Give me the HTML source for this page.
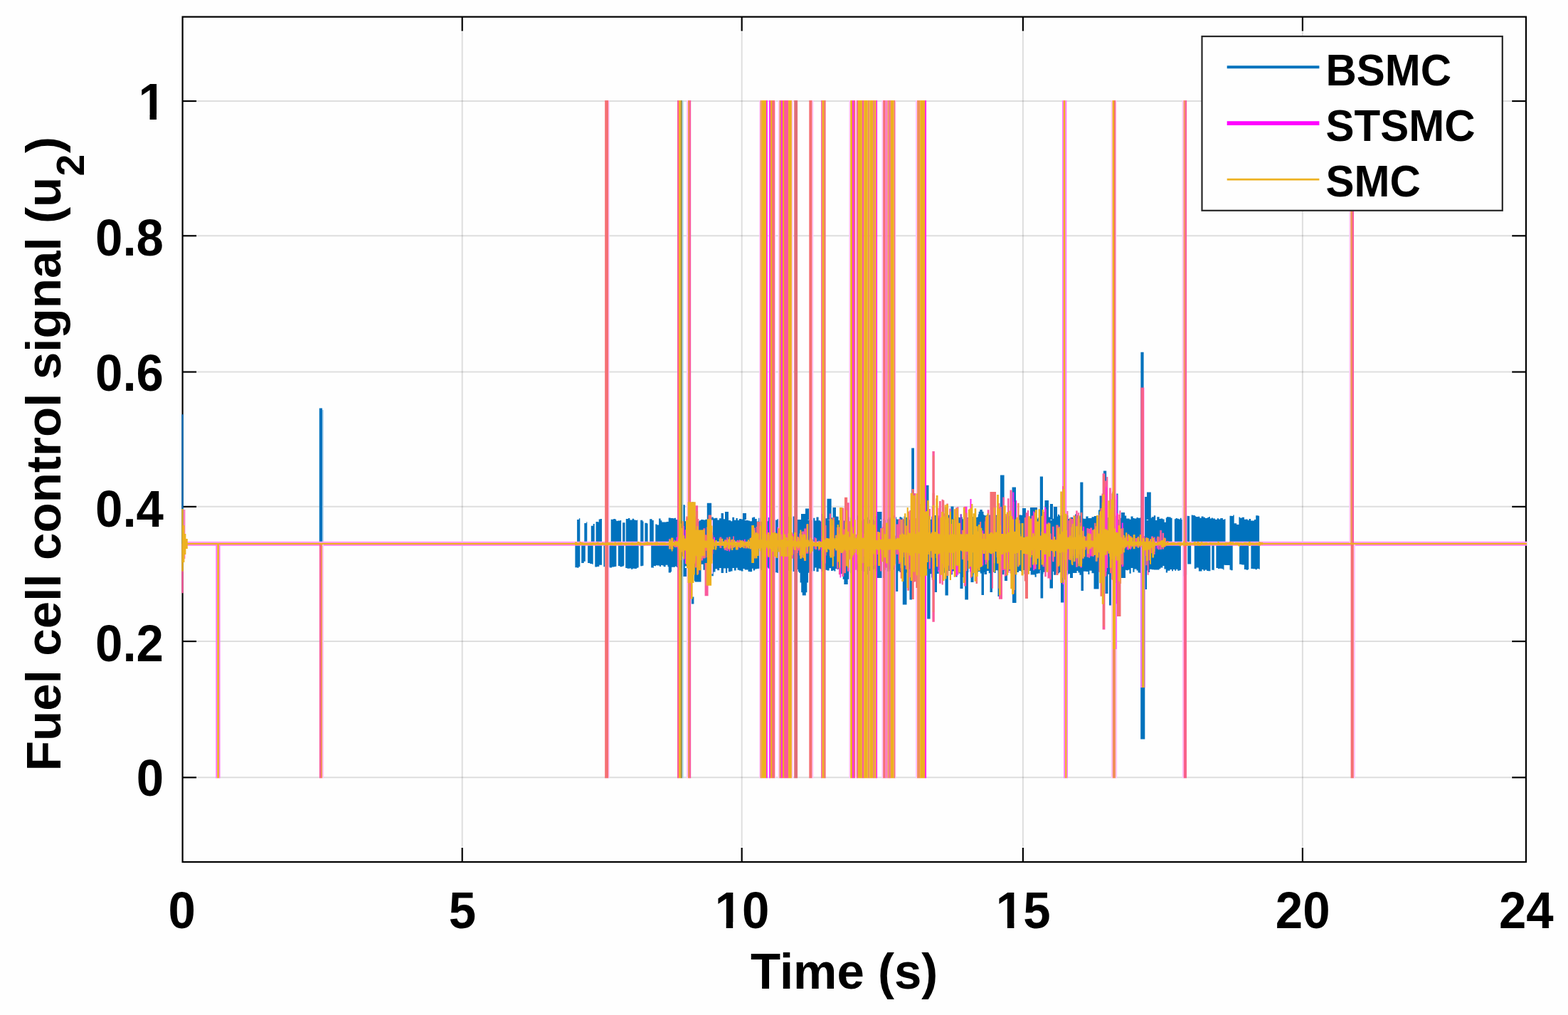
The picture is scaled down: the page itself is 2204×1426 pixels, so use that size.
<!DOCTYPE html>
<html lang="en"><head><meta charset="utf-8"><title>Fuel cell control signal (u2)</title>
<style>html,body{margin:0;padding:0;background:#FEFEFE;overflow:hidden}svg{display:block;filter:blur(0.45px)}</style></head>
<body>
<svg width="2204" height="1426" viewBox="0 0 2204 1426">
<rect width="2204" height="1426" fill="#FEFEFE"/>
<g stroke="#000" stroke-opacity="0.124" stroke-width="2.0" fill="none">
<line x1="649.70" y1="44.849999999999994" x2="649.70" y2="1189.8"/>
<line x1="1042.70" y1="44.849999999999994" x2="1042.70" y2="1189.8"/>
<line x1="1437.90" y1="44.849999999999994" x2="1437.90" y2="1189.8"/>
<line x1="1830.90" y1="44.849999999999994" x2="1830.90" y2="1189.8"/>
<line x1="277.20000000000005" y1="1092.30" x2="2124.0" y2="1092.30"/>
<line x1="277.20000000000005" y1="901.05" x2="2124.0" y2="901.05"/>
<line x1="277.20000000000005" y1="711.85" x2="2124.0" y2="711.85"/>
<line x1="277.20000000000005" y1="522.55" x2="2124.0" y2="522.55"/>
<line x1="277.20000000000005" y1="331.30" x2="2124.0" y2="331.30"/>
<line x1="277.20000000000005" y1="142.05" x2="2124.0" y2="142.05"/>
</g>
<g stroke="#000" stroke-width="2.2" fill="none" stroke-linecap="butt">
<rect x="256.6" y="23.65" width="1888.4" height="1187.35"/>
<line x1="649.70" y1="1211.0" x2="649.70" y2="1191.0"/>
<line x1="649.70" y1="23.65" x2="649.70" y2="43.65"/>
<line x1="1042.70" y1="1211.0" x2="1042.70" y2="1191.0"/>
<line x1="1042.70" y1="23.65" x2="1042.70" y2="43.65"/>
<line x1="1437.90" y1="1211.0" x2="1437.90" y2="1191.0"/>
<line x1="1437.90" y1="23.65" x2="1437.90" y2="43.65"/>
<line x1="1830.90" y1="1211.0" x2="1830.90" y2="1191.0"/>
<line x1="1830.90" y1="23.65" x2="1830.90" y2="43.65"/>
<line x1="256.6" y1="1092.30" x2="276.20000000000005" y2="1092.30"/>
<line x1="2145.0" y1="1092.30" x2="2125.2" y2="1092.30"/>
<line x1="256.6" y1="901.05" x2="276.20000000000005" y2="901.05"/>
<line x1="2145.0" y1="901.05" x2="2125.2" y2="901.05"/>
<line x1="256.6" y1="711.85" x2="276.20000000000005" y2="711.85"/>
<line x1="2145.0" y1="711.85" x2="2125.2" y2="711.85"/>
<line x1="256.6" y1="522.55" x2="276.20000000000005" y2="522.55"/>
<line x1="2145.0" y1="522.55" x2="2125.2" y2="522.55"/>
<line x1="256.6" y1="331.30" x2="276.20000000000005" y2="331.30"/>
<line x1="2145.0" y1="331.30" x2="2125.2" y2="331.30"/>
<line x1="256.6" y1="142.05" x2="276.20000000000005" y2="142.05"/>
<line x1="2145.0" y1="142.05" x2="2125.2" y2="142.05"/>
</g>
<clipPath id="ax"><rect x="255.20000000000002" y="23.65" width="1891.0" height="1187.35"/></clipPath>
<g clip-path="url(#ax)" stroke="none">
<path fill="#A9CFEA" d="M453.0 576.0H454.8V764.0H453.0Z"/>
<path fill="#0072BD" d="M255.2 582.2H257.7V764.0H255.2ZM448.8 573.4H453.0V764.0H448.8ZM811.1 730.1H814.0V764.0H811.1ZM813.8 728.2H815.3V764.0H813.8ZM821.3 735.1H824.4V764.0H821.3ZM824.3 733.2H825.3V764.0H824.3ZM830.8 738.7H833.9V764.0H830.8ZM833.7 736.1H835.7V764.0H833.7ZM835.5 736.9H835.7V764.0H835.5ZM837.6 733.1H840.5V764.0H837.6ZM840.4 733.5H841.9V764.0H840.4ZM841.7 729.4H843.9V764.0H841.7ZM843.7 729.1H846.0V764.0H843.7ZM858.7 729.7H862.4V764.0H858.7ZM862.2 728.9H865.3V764.0H862.2ZM865.2 730.3H866.4V764.0H865.2ZM866.2 732.0H868.4V764.0H866.2ZM868.2 731.5H871.8V764.0H868.2ZM871.7 731.0H873.2V764.0H871.7ZM875.1 734.2H878.4V764.0H875.1ZM878.3 734.6H878.6V764.0H878.3ZM879.8 729.1H883.1V764.0H879.8ZM883.0 728.1H885.4V764.0H883.0ZM885.3 730.6H888.9V764.0H885.3ZM888.7 728.8H891.2V764.0H888.7ZM891.1 730.6H893.6V764.0H891.1ZM893.4 731.1H895.8V764.0H893.4ZM895.6 730.3H896.3V764.0H895.6ZM900.2 730.7H903.3V764.0H900.2ZM903.1 732.5H904.5V764.0H903.1ZM906.4 734.7H909.5V764.0H906.4ZM909.3 735.5H910.6V764.0H909.3ZM913.2 729.2H916.7V764.0H913.2ZM916.5 731.0H918.8V764.0H916.5ZM921.3 736.4H923.5V764.0H921.3ZM923.4 737.5H926.3V764.0H923.4ZM926.1 728.6H928.6V764.0H926.1ZM928.5 731.2H930.3V764.0H928.5ZM930.2 733.4H933.6V764.0H930.2ZM933.5 733.5H936.9V764.0H933.5ZM936.8 733.1H939.0V764.0H936.8ZM938.8 733.1H939.9V764.0H938.8ZM939.7 727.4H942.6V764.0H939.7ZM942.5 728.1H945.9V764.0H942.5ZM945.7 728.2H948.3V764.0H945.7ZM948.1 727.8H950.0V764.0H948.1ZM949.8 730.1H952.1V764.0H949.8ZM808.4 764.0H811.4V797.3H808.4ZM811.3 764.0H813.5V797.7H811.3ZM813.4 764.0H815.3V796.2H813.4ZM817.2 764.0H820.8V790.9H817.2ZM820.7 764.0H822.8V788.8H820.7ZM826.1 764.0H829.3V791.1H826.1ZM829.2 764.0H832.5V792.0H829.2ZM832.3 764.0H833.7V792.8H832.3ZM836.3 764.0H839.3V796.5H836.3ZM839.2 764.0H842.3V796.0H839.2ZM842.1 764.0H844.5V793.8H842.1ZM844.3 764.0H846.0V793.8H844.3ZM848.5 764.0H850.0V796.3H848.5ZM854.0 764.0H856.8V796.6H854.0ZM856.7 764.0H860.2V797.6H856.7ZM860.0 764.0H863.7V796.6H860.0ZM863.5 764.0H866.2V796.0H863.5ZM866.0 764.0H866.4V795.5H866.0ZM868.9 764.0H871.5V794.9H868.9ZM871.3 764.0H874.7V796.3H871.3ZM874.5 764.0H876.8V795.6H874.5ZM876.7 764.0H877.3V794.3H876.7ZM879.2 764.0H881.6V797.9H879.2ZM881.5 764.0H884.7V798.7H881.5ZM884.5 764.0H887.5V798.5H884.5ZM887.4 764.0H889.1V799.9H887.4ZM889.0 764.0H892.3V798.8H889.0ZM892.2 764.0H895.0V799.0H892.2ZM894.8 764.0H897.2V797.8H894.8ZM897.1 764.0H897.7V797.1H897.1ZM900.2 764.0H903.0V795.3H900.2ZM902.8 764.0H904.5V794.8H902.8ZM915.2 764.0H918.5V797.4H915.2ZM918.3 764.0H918.8V798.1H918.3ZM918.6 764.0H920.4V795.0H918.6ZM920.2 764.0H922.0V795.3H920.2ZM921.9 764.0H924.1V794.2H921.9ZM924.0 764.0H927.1V794.5H924.0ZM927.0 764.0H929.2V796.0H927.0ZM929.1 764.0H931.2V794.1H929.1ZM931.1 764.0H932.9V794.6H931.1ZM932.7 764.0H935.6V796.2H932.7ZM935.5 764.0H938.7V793.7H935.5ZM938.5 764.0H939.9V796.2H938.5ZM939.7 764.0H943.0V804.4H939.7ZM942.9 764.0H944.0V803.2H942.9ZM943.8 764.0H947.0V796.8H943.8ZM946.9 764.0H948.9V796.7H946.9ZM948.7 764.0H951.5V795.8H948.7ZM951.4 764.0H952.1V795.2H951.4ZM951.0 732.5H953.8V797.1H951.0ZM953.6 732.1H956.7V801.0H953.6ZM956.5 731.4H959.5V797.8H956.5ZM959.3 726.6H962.3V796.5H959.3ZM962.1 732.3H965.2V795.5H962.1ZM965.0 727.8H967.4V792.7H965.0ZM967.2 730.8H969.4V798.5H967.2ZM969.2 726.3H971.7V799.2H969.2ZM971.5 731.3H974.8V799.6H971.5ZM974.6 729.5H977.5V798.0H974.6ZM977.3 729.1H979.9V798.7H977.3ZM979.7 732.4H983.1V798.2H979.7ZM982.9 731.3H985.3V799.7H982.9ZM985.1 730.1H988.7V792.7H985.1ZM988.5 730.6H991.6V800.8H988.5ZM991.4 729.8H994.0V802.5H991.4ZM993.8 729.2H996.2V803.3H993.8ZM996.0 731.2H998.5V802.1H996.0ZM998.3 728.6H1000.5V798.7H998.3ZM1000.3 726.4H1002.8V809.2H1000.3ZM1002.6 728.3H1005.5V803.4H1002.6ZM1005.3 727.8H1008.4V799.3H1005.3ZM1008.2 730.5H1011.2V801.3H1008.2ZM1011.0 728.3H1013.8V798.0H1011.0ZM1013.6 720.9H1017.0V804.9H1013.6ZM1016.8 729.3H1020.2V798.6H1016.8ZM1020.0 727.9H1022.2V804.9H1020.0ZM1022.0 727.4H1024.1V798.3H1022.0ZM1023.9 730.9H1027.1V803.3H1023.9ZM1026.9 732.3H1029.5V802.5H1026.9ZM1029.3 726.8H1032.1V797.9H1029.3ZM1031.9 730.8H1034.7V801.6H1031.9ZM1034.5 728.0H1036.8V797.7H1034.5ZM1036.6 731.0H1039.2V800.7H1036.6ZM1039.0 729.1H1042.0V801.5H1039.0ZM1041.8 729.5H1044.5V802.6H1041.8ZM1044.3 728.9H1046.8V799.1H1044.3ZM1046.6 731.1H1049.1V800.6H1046.6ZM1048.9 730.9H1051.8V800.4H1048.9ZM1051.6 731.4H1054.0V803.0H1051.6ZM1053.8 732.2H1057.1V803.3H1053.8ZM1056.9 727.3H1058.9V798.8H1056.9ZM1058.7 726.5H1061.2V801.5H1058.7ZM1061.0 728.9H1063.7V799.5H1061.0ZM1063.5 732.6H1066.4V799.0H1063.5ZM1066.2 727.7H1069.0V798.7H1066.2ZM1068.8 732.8H1072.1V800.9H1068.8ZM1071.9 725.8H1074.9V802.6H1071.9ZM1074.7 729.6H1078.1V795.4H1074.7ZM1077.9 732.3H1080.0V797.6H1077.9ZM1079.8 726.9H1082.5V798.8H1079.8ZM1082.3 726.9H1085.3V798.9H1082.3ZM1085.1 728.1H1087.8V798.4H1085.1ZM1087.6 729.4H1089.6V804.2H1087.6ZM1089.4 730.5H1092.6V804.3H1089.4ZM1092.4 729.3H1095.4V804.9H1092.4ZM1095.2 732.0H1098.2V801.2H1095.2ZM1098.0 730.3H1100.5V802.1H1098.0ZM1100.3 727.6H1103.5V802.8H1100.3ZM1103.3 725.4H1105.7V803.9H1103.3ZM1105.5 727.2H1108.1V798.7H1105.5ZM1107.9 726.1H1110.8V801.7H1107.9ZM1110.6 727.6H1113.7V801.3H1110.6ZM1113.5 725.4H1116.9V803.1H1113.5ZM1116.7 725.2H1120.1V802.4H1116.7ZM1119.9 730.1H1122.0V800.1H1119.9ZM1121.8 730.0H1125.4V803.3H1121.8ZM1125.2 730.0H1127.2V800.9H1125.2ZM1127.0 728.6H1130.6V801.5H1127.0ZM1130.4 728.9H1133.3V801.5H1130.4ZM1133.1 726.2H1135.6V802.2H1133.1ZM1135.4 730.5H1138.3V802.5H1135.4ZM1138.1 730.6H1141.1V801.8H1138.1ZM1140.9 730.7H1143.0V802.7H1140.9ZM1142.8 727.7H1145.4V802.2H1142.8ZM1145.2 731.6H1147.7V797.6H1145.2ZM1147.5 726.4H1150.6V803.3H1147.5ZM1150.4 731.3H1153.1V798.8H1150.4ZM1152.9 732.6H1155.0V799.4H1152.9ZM1154.8 722.0H1156.9V802.7H1154.8ZM1156.7 725.4H1159.5V800.2H1156.7ZM1159.3 728.3H1162.7V800.8H1159.3ZM1162.5 730.3H1165.6V801.4H1162.5ZM1165.4 731.2H1168.3V798.3H1165.4ZM1168.1 727.5H1170.7V802.1H1168.1ZM1170.5 730.1H1172.6V801.3H1170.5ZM1172.4 726.8H1174.4V802.6H1172.4ZM1174.2 725.6H1176.3V799.1H1174.2ZM1176.1 725.7H1178.6V799.9H1176.1ZM1178.4 731.0H1181.4V799.1H1178.4ZM1181.2 727.8H1184.3V806.2H1181.2ZM1184.1 731.6H1187.2V798.0H1184.1ZM1187.0 728.8H1189.0V797.6H1187.0ZM1188.8 728.1H1192.3V801.1H1188.8ZM1192.1 726.4H1195.4V799.3H1192.1ZM1195.2 727.8H1197.2V805.3H1195.2ZM1197.0 726.1H1200.6V799.1H1197.0ZM1200.4 730.1H1202.6V798.7H1200.4ZM1202.4 725.0H1205.4V799.1H1202.4ZM1205.2 723.9H1208.8V802.7H1205.2ZM1208.6 729.0H1210.8V802.4H1208.6ZM1210.6 731.4H1213.4V802.1H1210.6ZM1213.2 729.5H1216.5V803.1H1213.2ZM1216.3 731.5H1218.8V799.6H1216.3ZM1218.6 726.8H1221.3V807.3H1218.6ZM1221.1 730.3H1223.4V801.9H1221.1ZM1223.2 726.4H1225.5V797.9H1223.2ZM1225.3 730.2H1228.3V799.7H1225.3ZM1228.1 731.6H1231.2V799.4H1228.1ZM1231.0 725.1H1234.3V802.6H1231.0ZM1234.1 725.6H1237.0V804.5H1234.1ZM1236.8 731.4H1238.9V800.1H1236.8ZM1238.7 728.2H1241.0V803.2H1238.7ZM1240.8 728.7H1244.1V798.3H1240.8ZM1243.9 730.8H1247.2V800.7H1243.9ZM1247.0 729.5H1249.7V802.8H1247.0ZM1249.5 727.0H1251.6V799.7H1249.5ZM1251.4 728.9H1254.3V802.1H1251.4ZM1254.1 730.4H1257.3V800.6H1254.1ZM1257.1 726.5H1260.3V807.4H1257.1ZM1260.1 729.5H1262.4V804.4H1260.1ZM1262.2 730.3H1264.6V802.2H1262.2ZM1264.4 726.3H1266.9V804.1H1264.4ZM1266.7 727.3H1268.7V798.4H1266.7ZM1268.5 729.8H1270.7V803.2H1268.5ZM1270.5 725.6H1273.3V803.4H1270.5ZM1273.1 727.0H1276.2V804.6H1273.1ZM1276.0 730.3H1279.0V799.8H1276.0ZM1278.8 725.2H1281.6V800.6H1278.8ZM1281.4 728.3H1284.6V806.5H1281.4ZM1284.4 725.2H1286.4V805.5H1284.4ZM1286.2 730.8H1289.8V802.5H1286.2ZM1289.6 730.0H1291.9V802.0H1289.6ZM1291.7 729.2H1294.5V804.8H1291.7ZM1294.3 729.9H1297.4V803.9H1294.3ZM1297.2 726.6H1300.1V800.3H1297.2ZM1299.9 727.6H1302.2V799.3H1299.9ZM1302.0 730.7H1305.0V799.6H1302.0ZM1304.8 724.4H1307.3V802.0H1304.8ZM1307.1 729.8H1309.4V806.2H1307.1ZM1309.2 725.8H1311.3V811.4H1309.2ZM1311.1 725.4H1313.6V801.1H1311.1ZM1313.4 724.0H1316.9V800.4H1313.4ZM1316.7 727.9H1319.6V805.9H1316.7ZM1319.4 724.2H1321.8V801.0H1319.4ZM1321.6 730.0H1324.5V804.5H1321.6ZM1324.3 726.7H1327.8V804.8H1324.3ZM1327.6 726.2H1329.8V805.3H1327.6ZM1329.6 728.5H1332.9V801.4H1329.6ZM1332.7 723.4H1336.1V802.1H1332.7ZM1335.9 726.1H1339.1V807.2H1335.9ZM1338.9 729.1H1341.6V802.5H1338.9ZM1341.4 729.3H1343.6V803.6H1341.4ZM1343.4 726.2H1345.5V810.5H1343.4ZM1345.3 726.3H1347.6V802.5H1345.3ZM1347.4 726.9H1350.8V805.4H1347.4ZM1350.6 726.5H1352.8V804.9H1350.6ZM1352.6 729.3H1356.1V811.1H1352.6ZM1355.9 723.0H1358.8V800.9H1355.9ZM1358.6 726.9H1361.4V804.0H1358.6ZM1361.2 724.8H1363.5V798.7H1361.2ZM1363.3 727.4H1366.3V802.8H1363.3ZM1366.1 726.0H1368.8V807.2H1366.1ZM1368.6 727.5H1371.9V802.6H1368.6ZM1371.7 726.8H1375.0V804.3H1371.7ZM1374.8 722.6H1378.0V802.9H1374.8ZM1377.8 727.0H1380.5V805.6H1377.8ZM1380.3 723.2H1383.7V804.3H1380.3ZM1383.5 724.3H1387.1V807.1H1383.5ZM1386.9 723.0H1390.0V802.0H1386.9ZM1389.8 723.5H1392.4V805.2H1389.8ZM1392.2 728.2H1394.7V802.1H1392.2ZM1394.5 724.8H1397.7V803.8H1394.5ZM1397.5 723.6H1399.7V804.9H1397.5ZM1399.5 723.8H1402.6V801.2H1399.5ZM1402.4 726.3H1404.4V802.4H1402.4ZM1404.2 724.0H1406.8V801.7H1404.2ZM1406.6 727.8H1408.8V806.6H1406.6ZM1408.6 728.7H1411.5V807.2H1408.6ZM1411.3 724.0H1414.7V801.5H1411.3ZM1414.5 726.3H1417.6V802.1H1414.5ZM1417.4 725.0H1420.3V802.1H1417.4ZM1420.1 726.9H1423.2V804.4H1420.1ZM1423.0 722.9H1425.6V806.7H1423.0ZM1425.4 726.5H1428.6V807.9H1425.4ZM1428.4 727.3H1432.0V803.9H1428.4ZM1431.8 723.5H1435.2V802.0H1431.8ZM1435.0 723.7H1437.1V803.1H1435.0ZM1436.9 724.9H1439.7V801.1H1436.9ZM1439.5 727.7H1442.9V806.5H1439.5ZM1442.7 724.7H1446.1V802.4H1442.7ZM1445.9 728.8H1448.9V802.1H1445.9ZM1448.7 726.5H1452.0V807.5H1448.7ZM1451.8 728.1H1454.8V807.5H1451.8ZM1454.6 724.1H1456.7V810.8H1454.6ZM1456.5 728.9H1458.8V805.9H1456.5ZM1458.6 727.3H1461.8V805.4H1458.6ZM1461.6 723.2H1463.7V801.1H1461.6ZM1463.5 726.2H1466.6V806.5H1463.5ZM1466.4 724.9H1469.8V803.8H1466.4ZM1469.6 723.8H1471.7V801.2H1469.6ZM1471.5 728.0H1474.2V801.0H1471.5ZM1474.0 726.6H1476.5V807.5H1474.0ZM1476.3 730.9H1478.7V804.1H1476.3ZM1478.5 728.8H1481.3V803.1H1478.5ZM1481.1 727.2H1484.3V807.7H1481.1ZM1484.1 725.5H1487.1V805.5H1484.1ZM1486.9 722.7H1489.1V805.5H1486.9ZM1488.9 724.5H1490.9V803.9H1488.9ZM1490.7 724.0H1493.4V805.5H1490.7ZM1493.2 723.5H1496.6V804.9H1493.2ZM1496.4 724.2H1498.8V802.6H1496.4ZM1498.6 724.0H1501.4V807.9H1498.6ZM1501.2 729.0H1504.7V806.3H1501.2ZM1504.5 726.8H1508.1V804.5H1504.5ZM1507.9 728.6H1511.2V805.0H1507.9ZM1511.0 722.6H1513.6V805.1H1511.0ZM1513.4 724.0H1515.6V801.9H1513.4ZM1515.4 726.0H1517.6V804.6H1515.4ZM1517.4 724.4H1520.8V807.8H1517.4ZM1520.6 728.4H1523.2V802.2H1520.6ZM1523.0 728.8H1526.6V802.7H1523.0ZM1526.4 725.6H1529.6V802.9H1526.4ZM1529.4 728.1H1531.4V807.1H1529.4ZM1531.2 728.1H1534.7V801.7H1531.2ZM1534.5 726.3H1538.0V805.2H1534.5ZM1537.8 724.9H1541.2V801.0H1537.8ZM1541.0 729.4H1543.3V804.3H1541.0ZM1543.1 728.0H1545.8V803.3H1543.1ZM1545.6 730.4H1548.3V801.4H1545.6ZM1548.1 724.8H1550.6V803.3H1548.1ZM1550.4 730.3H1553.7V801.3H1550.4ZM1553.5 723.6H1556.9V805.0H1553.5ZM1556.7 726.9H1560.2V806.7H1556.7ZM1560.0 726.6H1563.3V806.2H1560.0ZM1563.1 725.7H1566.1V800.9H1563.1ZM1565.9 728.9H1568.2V804.7H1565.9ZM1568.0 725.5H1571.1V801.4H1568.0ZM1570.9 730.0H1573.6V800.3H1570.9ZM1573.4 727.8H1576.2V798.6H1573.4ZM1576.0 727.4H1578.4V804.3H1576.0ZM1578.2 725.3H1580.3V803.9H1578.2ZM1580.1 724.6H1583.2V800.7H1580.1ZM1583.0 728.4H1585.8V801.3H1583.0ZM1585.6 728.5H1587.7V800.4H1585.6ZM1587.5 729.8H1589.7V805.8H1587.5ZM1589.5 725.5H1592.6V798.0H1589.5ZM1592.4 727.9H1594.5V803.7H1592.4ZM1594.3 728.4H1597.7V799.5H1594.3ZM1597.5 727.0H1599.7V801.5H1597.5ZM1599.5 727.8H1602.5V804.5H1599.5ZM1602.3 727.6H1605.4V804.9H1602.3ZM1605.2 730.5H1608.4V802.1H1605.2ZM1608.2 726.2H1611.7V804.2H1608.2ZM1611.5 730.9H1614.2V801.4H1611.5ZM1614.0 728.8H1616.1V803.9H1614.0ZM1615.9 727.7H1619.0V799.8H1615.9ZM1618.8 726.3H1622.0V800.3H1618.8ZM1621.8 724.3H1624.2V800.4H1621.8ZM1624.0 730.9H1626.5V800.4H1624.0ZM1626.3 726.3H1629.6V800.4H1626.3ZM1629.4 729.1H1631.4V798.9H1629.4ZM1631.2 728.6H1634.4V797.4H1631.2ZM1634.2 729.6H1636.6V795.1H1634.2ZM1636.4 733.8H1639.0V799.4H1636.4ZM1638.8 727.4H1641.1V804.5H1638.8ZM1019.0 719.0H1024.0V730.0H1019.0ZM1044.0 721.0H1049.0V730.0H1044.0ZM1132.0 714.5H1137.0V730.0H1132.0ZM1126.0 722.0H1132.0V730.0H1126.0ZM1162.5 700.8H1168.6V730.0H1162.5ZM1170.5 713.0H1175.0V730.0H1170.5ZM1233.0 719.0H1241.0V730.0H1233.0ZM1281.2 629.5H1285.0V730.0H1281.2ZM1300.0 681.8H1305.5V730.0H1300.0ZM1336.5 711.5H1340.5V730.0H1336.5ZM1374.0 726.3H1375.8V730.0H1374.0ZM1375.7 718.8H1377.5V730.0H1375.7ZM1377.3 716.0H1379.2V730.0H1377.3ZM1379.0 716.0H1380.8V730.0H1379.0ZM1380.7 718.8H1382.5V730.0H1380.7ZM1382.3 726.3H1384.2V730.0H1382.3ZM1406.0 667.5H1411.6V730.0H1406.0ZM1422.6 684.5H1428.0V730.0H1422.6ZM1437.0 714.0H1442.0V730.0H1437.0ZM1448.0 713.0H1458.0V730.0H1448.0ZM1461.8 669.5H1466.0V730.0H1461.8ZM1468.5 703.0H1474.0V730.0H1468.5ZM1476.0 708.0H1480.0V730.0H1476.0ZM1481.0 712.0H1486.0V730.0H1481.0ZM1518.3 677.6H1522.4V730.0H1518.3ZM1544.0 716.6H1545.8V730.0H1544.0ZM1545.6 696.5H1547.4V730.0H1545.6ZM1547.2 696.5H1549.0V730.0H1547.2ZM1548.9 716.6H1550.7V730.0H1548.9ZM1551.0 661.5H1555.2V730.0H1551.0ZM1567.5 693.5H1571.5V730.0H1567.5ZM1576.0 720.0H1581.0V730.0H1576.0ZM1607.5 698.0H1612.0V730.0H1607.5ZM1612.0 691.5H1617.8V730.0H1612.0ZM962.0 798.0H968.0V810.0H962.0ZM974.0 798.0H975.9V804.1H974.0ZM975.8 798.0H977.8V816.2H975.8ZM977.6 798.0H979.5V817.0H977.6ZM979.4 798.0H981.4V816.2H979.4ZM981.2 798.0H983.1V804.1H981.2ZM1123.0 798.0H1124.8V804.8H1123.0ZM1124.6 798.0H1126.4V818.5H1124.6ZM1126.2 798.0H1128.0V832.2H1126.2ZM1127.8 798.0H1129.6V836.5H1127.8ZM1129.4 798.0H1131.2V836.5H1129.4ZM1131.1 798.0H1132.8V836.5H1131.1ZM1132.7 798.0H1134.4V832.2H1132.7ZM1134.3 798.0H1136.0V818.5H1134.3ZM1135.9 798.0H1137.7V804.8H1135.9ZM1183.0 798.0H1184.9V803.3H1183.0ZM1184.7 798.0H1186.6V813.8H1184.7ZM1186.4 798.0H1188.3V821.0H1186.4ZM1188.1 798.0H1190.0V821.0H1188.1ZM1189.9 798.0H1191.7V821.0H1189.9ZM1191.6 798.0H1193.4V813.8H1191.6ZM1193.3 798.0H1195.2V803.3H1193.3ZM1232.0 798.0H1242.0V812.0H1232.0ZM1258.5 798.0H1262.2V831.0H1258.5ZM1268.8 798.0H1273.8V849.5H1268.8ZM1278.5 798.0H1282.0V842.5H1278.5ZM1288.0 798.0H1291.0V810.0H1288.0ZM1303.2 798.0H1307.6V869.5H1303.2ZM1313.5 798.0H1317.0V832.0H1313.5ZM1328.5 798.0H1332.8V836.5H1328.5ZM1349.5 798.0H1353.5V827.0H1349.5ZM1356.3 798.0H1361.0V842.5H1356.3ZM1364.5 798.0H1368.5V818.0H1364.5ZM1391.5 798.0H1395.0V832.0H1391.5ZM1412.0 798.0H1416.0V816.0H1412.0ZM1423.0 798.0H1428.5V847.0H1423.0ZM1462.5 798.0H1466.2V840.5H1462.5ZM1475.5 798.0H1480.0V826.5H1475.5ZM1491.0 798.0H1495.8V846.5H1491.0ZM1504.0 798.0H1508.0V812.0H1504.0ZM1537.5 798.0H1544.5V827.5H1537.5ZM1553.5 798.0H1557.5V834.0H1553.5ZM1559.0 798.0H1563.2V850.5H1559.0ZM1576.0 798.0H1582.0V812.0H1576.0ZM1607.5 798.0H1612.0V828.0H1607.5ZM1269.5 798.0H1274.5V849.5H1269.5ZM1379.5 798.0H1383.0V836.0H1379.5ZM1402.5 798.0H1406.0V838.0H1402.5ZM1441.0 798.0H1444.0V836.0H1441.0ZM1519.5 798.0H1523.0V830.0H1519.5ZM1603.4 494.7H1607.6V764.0H1603.4ZM1603.2 764.0H1609.3V1038.6H1603.2ZM1640.0 726.2H1643.4V764.0H1640.0ZM1643.3 726.6H1645.7V764.0H1643.3ZM1645.5 727.7H1647.6V764.0H1645.5ZM1650.9 729.2H1652.7V764.0H1650.9ZM1652.6 727.9H1654.8V764.0H1652.6ZM1654.7 728.7H1657.0V764.0H1654.7ZM1656.9 729.6H1658.9V764.0H1656.9ZM1658.8 727.8H1660.6V764.0H1658.8ZM1660.5 730.1H1661.9V764.0H1660.5ZM1668.6 724.8H1670.3V764.0H1668.6ZM1670.2 724.9H1672.1V764.0H1670.2ZM1674.7 723.5H1676.6V764.0H1674.7ZM1676.4 724.1H1679.8V764.0H1676.4ZM1679.7 725.2H1681.0V764.0H1679.7ZM1680.8 725.9H1684.2V764.0H1680.8ZM1684.0 725.8H1686.4V764.0H1684.0ZM1686.3 727.7H1688.8V764.0H1686.3ZM1688.6 725.6H1691.6V764.0H1688.6ZM1691.4 726.8H1693.9V764.0H1691.4ZM1693.8 728.0H1695.6V764.0H1693.8ZM1695.5 728.1H1697.3V764.0H1695.5ZM1697.2 727.1H1699.2V764.0H1697.2ZM1699.0 726.0H1700.8V764.0H1699.0ZM1700.7 728.6H1702.9V764.0H1700.7ZM1702.8 727.6H1704.8V764.0H1702.8ZM1704.6 728.4H1707.3V764.0H1704.6ZM1707.2 728.6H1708.2V764.0H1707.2ZM1708.1 730.1H1710.9V764.0H1708.1ZM1710.7 728.3H1713.0V764.0H1710.7ZM1712.9 729.4H1715.4V764.0H1712.9ZM1715.3 728.1H1718.9V764.0H1715.3ZM1718.7 729.9H1721.0V764.0H1718.7ZM1720.9 729.3H1722.5V764.0H1720.9ZM1728.5 724.8H1731.4V764.0H1728.5ZM1731.3 724.9H1733.5V764.0H1731.3ZM1733.3 723.4H1734.7V764.0H1733.3ZM1734.6 735.3H1738.2V764.0H1734.6ZM1738.0 736.9H1741.5V764.0H1738.0ZM1741.4 726.6H1743.2V764.0H1741.4ZM1743.0 727.7H1745.8V764.0H1743.0ZM1745.6 726.8H1749.0V764.0H1745.6ZM1748.9 729.7H1751.5V764.0H1748.9ZM1751.4 729.5H1753.8V764.0H1751.4ZM1753.6 730.9H1755.6V764.0H1753.6ZM1755.5 728.9H1758.2V764.0H1755.5ZM1758.1 731.5H1759.9V764.0H1758.1ZM1759.8 731.5H1763.2V764.0H1759.8ZM1763.0 730.1H1765.4V764.0H1763.0ZM1765.2 724.2H1768.6V764.0H1765.2ZM1768.5 724.7H1770.1V764.0H1768.5ZM1640.0 764.0H1641.7V801.7H1640.0ZM1641.6 764.0H1644.6V801.7H1641.6ZM1644.5 764.0H1647.2V799.9H1644.5ZM1647.0 764.0H1649.1V802.2H1647.0ZM1648.9 764.0H1651.3V800.0H1648.9ZM1651.2 764.0H1653.3V801.8H1651.2ZM1653.2 764.0H1655.4V799.7H1653.2ZM1655.2 764.0H1658.2V801.8H1655.2ZM1658.0 764.0H1659.9V800.9H1658.0ZM1663.1 764.0H1666.4V809.4H1663.1ZM1666.2 764.0H1668.1V807.6H1666.2ZM1669.3 764.0H1672.7V792.6H1669.3ZM1672.6 764.0H1674.2V792.5H1672.6ZM1678.8 764.0H1681.5V799.0H1678.8ZM1681.4 764.0H1684.8V797.4H1681.4ZM1684.7 764.0H1685.1V798.8H1684.7ZM1684.9 764.0H1687.7V802.5H1684.9ZM1687.5 764.0H1689.5V802.6H1687.5ZM1689.3 764.0H1691.5V799.9H1689.3ZM1691.4 764.0H1693.9V801.8H1691.4ZM1693.8 764.0H1696.3V800.6H1693.8ZM1696.1 764.0H1698.4V802.1H1696.1ZM1698.2 764.0H1701.4V802.3H1698.2ZM1703.3 764.0H1706.7V800.7H1703.3ZM1706.5 764.0H1706.8V801.7H1706.5ZM1709.4 764.0H1712.1V798.1H1709.4ZM1711.9 764.0H1714.0V798.9H1711.9ZM1713.9 764.0H1717.5V798.8H1713.9ZM1717.3 764.0H1719.4V799.2H1717.3ZM1719.3 764.0H1720.5V800.5H1719.3ZM1720.3 764.0H1722.1V793.7H1720.3ZM1721.9 764.0H1724.5V794.0H1721.9ZM1724.3 764.0H1727.9V794.0H1724.3ZM1727.7 764.0H1729.7V793.9H1727.7ZM1729.6 764.0H1732.7V793.8H1729.6ZM1728.5 764.0H1730.3V800.4H1728.5ZM1730.1 764.0H1732.7V801.3H1730.1ZM1742.1 764.0H1744.8V792.8H1742.1ZM1744.6 764.0H1746.4V793.3H1744.6ZM1746.2 764.0H1749.0V793.6H1746.2ZM1748.9 764.0H1752.0V800.1H1748.9ZM1751.8 764.0H1754.1V800.7H1751.8ZM1753.9 764.0H1755.2V799.9H1753.9ZM1758.4 764.0H1761.3V798.9H1758.4ZM1761.1 764.0H1764.7V799.3H1761.1ZM1764.6 764.0H1766.8V800.2H1764.6ZM1766.6 764.0H1769.9V799.1H1766.6ZM1769.7 764.0H1770.8V799.7H1769.7ZM256.6 762.0H2145.0V766.0H256.6ZM972.0 838.4H975.4V848.5H972.0ZM958.4 709.3H962.8V810.0H958.4ZM993.8 706.8H1000.1V768.4H993.8ZM976.7 768.4H985.5V817.6H976.7Z"/>
<path fill="#FF9CFB" d="M256.6 760.8H2146.1V763.0H256.6Z"/>
<path fill="#FF78F2" d="M256.6 763.0H2146.1V766.8H256.6Z"/>
<path fill="#FFC4FF" d="M855.1 141.1H856.6V1093.2H855.1ZM965.0 141.1H967.1V1093.2H965.0ZM1067.2 141.1H1068.7V1093.2H1067.2ZM1089.0 141.1H1090.1V1093.2H1089.0ZM1093.8 141.1H1095.7V1093.2H1093.8ZM1112.8 141.1H1114.7V1093.2H1112.8ZM1141.4 141.1H1143.3V1093.2H1141.4ZM1193.5 141.1H1195.3V1093.2H1193.5ZM1202.0 141.1H1204.1V1093.2H1202.0ZM1239.4 141.1H1241.3V1093.2H1239.4ZM1258.0 141.1H1259.3V1093.2H1258.0ZM1287.0 141.1H1289.2V1093.2H1287.0ZM1561.8 141.1H1563.7V764.0H1561.8ZM1567.9 141.1H1569.4V764.0H1567.9ZM1561.9 764.0H1564.0V912.0H1561.9ZM1561.9 912.0H1564.0V1093.2H1561.9ZM1567.8 912.0H1570.1V1093.2H1567.8ZM1661.6 141.1H1663.7V764.0H1661.6ZM1661.8 764.0H1663.9V1093.2H1661.8ZM1896.5 141.1H1898.4V764.0H1896.5ZM1902.7 764.0H1904.9V1093.2H1902.7ZM453.0 764.0H454.9V1093.2H453.0ZM1607.9 544.4H1609.1V764.0H1607.9ZM1000.1 730.5H1002.0V806.2H1000.1Z"/>
<path fill="#FF74F8" d="M1493.1 141.1H1495.0V764.0H1493.1ZM1497.2 141.1H1499.3V764.0H1497.2ZM1495.2 764.0H1497.3V1093.2H1495.2ZM1499.2 764.0H1501.0V1093.2H1499.2ZM1567.8 764.0H1570.1V912.0H1567.8ZM303.3 764.0H305.5V1093.2H303.3ZM307.8 764.0H309.5V1093.2H307.8ZM1603.2 764.0H1605.3V966.0H1603.2ZM1608.4 764.0H1609.7V966.0H1608.4Z"/>
<path fill="#A9CFEA" d="M958.6 141.1H960.6V1093.2H958.6Z"/>
<path fill="#8A3FD6" d="M1262.0 731.5H1264.2V786.3H1262.0ZM1270.6 735.2H1272.3V780.0H1270.6ZM1277.7 744.2H1280.3V791.0H1277.7ZM1319.4 726.0H1321.5V786.2H1319.4ZM1327.7 712.4H1330.2V780.4H1327.7ZM1349.6 722.3H1351.9V772.6H1349.6ZM1469.2 735.0H1471.7V798.3H1469.2ZM1493.1 744.3H1495.6V790.9H1493.1ZM1515.3 752.3H1517.7V782.6H1515.3ZM1545.4 743.2H1547.7V787.8H1545.4ZM1560.6 737.3H1563.3V773.3H1560.6ZM1589.3 758.0H1591.4V768.1H1589.3ZM1596.8 756.3H1599.4V767.3H1596.8ZM972.7 705.2H974.8V724.2H972.7Z"/>
<path fill="#FB7CC4" d="M1244.2 141.1H1247.7V1093.2H1244.2ZM257.7 716.0H260.4V785.0H257.7Z"/>
<path fill="#FA5A9C" d="M952.0 141.1H954.2V1093.2H952.0ZM969.0 141.1H971.2V1093.2H969.0ZM1101.9 141.1H1108.2V1093.2H1101.9ZM1154.1 141.1H1155.8V1093.2H1154.1ZM1204.0 141.1H1205.9V1093.2H1204.0ZM1211.8 141.1H1214.3V1093.2H1211.8ZM1249.6 141.1H1251.8V1093.2H1249.6ZM1665.7 141.1H1668.1V764.0H1665.7ZM1900.9 141.1H1903.0V764.0H1900.9ZM448.9 764.0H451.1V1093.2H448.9ZM255.2 802.0H257.7V833.2H255.2ZM940.0 756.9H942.5V768.4H940.0ZM953.0 746.0H955.5V777.8H953.0ZM955.8 739.2H958.7V777.2H955.8ZM964.4 728.2H967.3V790.2H964.4ZM967.6 716.4H970.3V818.3H967.6ZM971.1 746.9H973.2V789.8H971.1ZM974.1 736.6H976.8V781.7H974.1ZM977.1 745.5H979.4V780.7H977.1ZM980.5 729.1H982.4V806.4H980.5ZM983.2 747.0H985.3V796.0H983.2ZM985.3 748.5H988.2V787.6H985.3ZM988.4 742.2H991.4V784.5H988.4ZM993.2 740.4H996.2V783.2H993.2ZM1000.1 751.8H1002.5V778.2H1000.1ZM1011.5 754.5H1014.3V770.1H1011.5ZM1018.1 758.1H1021.0V772.9H1018.1ZM1021.2 755.0H1023.2V774.0H1021.2ZM1026.4 758.4H1028.5V770.5H1026.4ZM1030.1 753.5H1032.0V769.7H1030.1ZM1035.4 759.0H1038.0V772.2H1035.4ZM1038.5 758.6H1040.9V768.4H1038.5ZM1056.1 752.3H1058.9V774.8H1056.1ZM1059.4 741.6H1061.8V778.7H1059.4ZM1062.8 740.1H1064.7V779.0H1062.8ZM1073.5 747.1H1075.8V780.6H1073.5ZM1076.6 744.5H1079.4V783.6H1076.6ZM1082.7 755.0H1085.1V787.9H1082.7ZM1085.7 738.6H1088.4V787.7H1085.7ZM1089.7 753.7H1091.8V779.5H1089.7ZM1100.0 747.1H1102.0V772.8H1100.0ZM1112.5 751.3H1115.3V784.8H1112.5ZM1116.9 747.6H1119.1V776.8H1116.9ZM1120.1 756.6H1123.2V773.5H1120.1ZM1123.2 749.6H1125.9V780.5H1123.2ZM1127.2 746.4H1130.1V779.2H1127.2ZM1130.2 742.4H1133.1V788.1H1130.2ZM1133.2 736.6H1136.3V777.8H1133.2ZM1138.0 753.2H1141.1V775.1H1138.0ZM1158.1 739.6H1161.0V791.5H1158.1ZM1165.8 721.4H1168.1V780.9H1165.8ZM1168.9 748.4H1171.6V776.0H1168.9ZM1176.0 741.0H1178.2V799.4H1176.0ZM1178.9 740.5H1181.8V807.2H1178.9ZM1183.4 713.4H1186.3V809.9H1183.4ZM1191.0 706.3H1193.7V802.7H1191.0ZM1193.7 744.4H1196.0V784.6H1193.7ZM1197.2 746.7H1199.5V779.0H1197.2ZM1204.0 750.4H1206.1V787.9H1204.0ZM1210.5 747.8H1213.1V791.6H1210.5ZM1213.6 749.9H1215.8V781.9H1213.6ZM1219.0 742.6H1221.8V778.8H1219.0ZM1221.9 737.4H1224.5V784.9H1221.9ZM1225.6 749.5H1228.7V788.4H1225.6ZM1229.8 736.8H1232.4V790.1H1229.8ZM1233.0 751.3H1235.9V778.9H1233.0ZM1237.1 742.0H1239.8V802.5H1237.1ZM1240.7 748.3H1243.7V778.3H1240.7ZM1244.9 739.4H1247.2V797.7H1244.9ZM1252.4 730.9H1254.7V787.6H1252.4ZM1255.3 724.3H1258.2V797.4H1255.3ZM1259.6 736.5H1262.7V779.1H1259.6ZM1262.8 728.9H1265.8V792.3H1262.8ZM1278.3 716.9H1281.1V811.2H1278.3ZM1282.0 703.2H1284.4V800.4H1282.0ZM1284.8 693.0H1287.1V806.6H1284.8ZM1290.9 713.8H1293.9V810.3H1290.9ZM1295.5 708.0H1297.4V817.8H1295.5ZM1298.6 699.8H1301.4V800.0H1298.6ZM1305.6 714.9H1308.0V799.1H1305.6ZM1320.0 704.0H1322.8V819.7H1320.0ZM1323.6 701.8H1325.8V821.6H1323.6ZM1326.5 721.3H1329.4V797.7H1326.5ZM1330.4 707.5H1332.8V795.4H1330.4ZM1334.2 714.6H1336.9V801.3H1334.2ZM1341.4 731.4H1344.2V809.5H1341.4ZM1345.1 712.2H1347.5V807.6H1345.1ZM1355.1 711.8H1358.1V823.4H1355.1ZM1359.9 727.6H1363.0V787.7H1359.9ZM1363.7 713.7H1365.8V811.8H1363.7ZM1371.3 741.8H1374.2V800.6H1371.3ZM1384.6 726.2H1386.7V793.1H1384.6ZM1387.8 716.3H1390.5V787.2H1387.8ZM1393.9 695.2H1395.9V826.8H1393.9ZM1396.6 709.4H1398.9V791.3H1396.6ZM1403.1 707.0H1405.4V790.7H1403.1ZM1405.5 712.0H1408.0V803.9H1405.5ZM1409.3 698.4H1411.9V801.1H1409.3ZM1411.9 722.0H1414.8V809.6H1411.9ZM1416.1 700.3H1418.5V804.8H1416.1ZM1419.5 688.5H1422.5V805.4H1419.5ZM1423.6 705.1H1425.8V833.7H1423.6ZM1430.7 733.3H1432.8V795.0H1430.7ZM1441.6 720.3H1443.9V817.9H1441.6ZM1443.8 716.9H1446.2V796.2H1443.8ZM1447.9 736.0H1449.8V797.5H1447.9ZM1449.7 724.4H1452.4V780.0H1449.7ZM1454.0 721.0H1456.7V799.4H1454.0ZM1465.4 719.0H1468.0V796.3H1465.4ZM1468.3 715.3H1470.8V810.3H1468.3ZM1472.4 734.2H1475.5V812.4H1472.4ZM1475.5 749.5H1477.8V814.5H1475.5ZM1479.0 739.8H1481.7V789.3H1479.0ZM1487.7 739.7H1489.8V793.9H1487.7ZM1493.1 683.1H1496.2V811.8H1493.1ZM1499.5 718.1H1501.4V801.4H1499.5ZM1501.7 731.3H1503.9V786.2H1501.7ZM1505.6 728.9H1508.5V781.0H1505.6ZM1508.8 726.3H1511.3V789.2H1508.8ZM1512.2 717.5H1514.7V796.8H1512.2ZM1515.1 720.3H1517.1V791.8H1515.1ZM1518.2 734.2H1520.8V797.2H1518.2ZM1524.2 753.7H1526.6V772.4H1524.2ZM1527.4 742.1H1530.1V782.8H1527.4ZM1530.2 743.1H1532.2V783.7H1530.2ZM1532.2 741.6H1535.1V779.6H1532.2ZM1544.4 723.2H1546.9V804.0H1544.4ZM1548.5 693.5H1551.1V811.9H1548.5ZM1552.7 675.6H1555.4V809.7H1552.7ZM1555.3 670.1H1557.3V798.0H1555.3ZM1559.1 685.4H1561.7V782.3H1559.1ZM1563.2 690.7H1565.2V815.1H1563.2ZM1565.6 724.7H1568.5V819.0H1565.6ZM1568.9 721.1H1572.0V847.9H1568.9ZM1573.4 717.2H1575.4V803.0H1573.4ZM1577.3 741.7H1579.3V795.5H1577.3ZM1584.9 750.6H1587.1V772.4H1584.9ZM1587.8 753.3H1590.7V770.5H1587.8ZM1592.6 752.6H1595.3V769.6H1592.6ZM1595.7 756.0H1598.4V767.9H1595.7ZM1598.9 753.8H1601.3V769.1H1598.9ZM1606.9 753.0H1609.0V774.2H1606.9ZM1609.6 755.7H1612.5V781.1H1609.6ZM1612.6 756.1H1614.6V807.8H1612.6ZM1618.1 753.5H1620.9V777.3H1618.1ZM1621.7 754.5H1623.6V779.1H1621.7ZM1627.5 755.2H1629.7V772.3H1627.5ZM1630.2 745.0H1632.9V772.1H1630.2ZM1633.5 748.7H1636.1V771.4H1633.5ZM1636.1 756.6H1639.1V767.7H1636.1ZM977.3 710.3H981.1V739.3H977.3ZM990.6 791.1H995.6V837.2H990.6ZM1310.4 634.0H1313.8V873.7H1310.4ZM1549.6 665.3H1553.4V884.5H1549.6ZM1404.0 764.0H1409.0V841.7H1404.0Z"/>
<path fill="#FF22F2" d="M1077.0 141.1H1078.9V1093.2H1077.0ZM1081.1 141.1H1083.0V1093.2H1081.1ZM1097.8 141.1H1100.0V1093.2H1097.8ZM1197.9 141.1H1200.0V1093.2H1197.9ZM1231.2 141.1H1233.1V1093.2H1231.2ZM1300.0 141.1H1302.1V1093.2H1300.0ZM947.0 758.3H948.4V767.9H947.0ZM950.5 754.6H952.5V769.0H950.5ZM955.4 751.8H957.1V772.9H955.4ZM960.5 738.9H961.9V786.6H960.5ZM962.7 744.3H964.5V791.9H962.7ZM969.0 723.2H970.4V813.6H969.0ZM979.4 751.0H980.9V806.2H979.4ZM986.7 748.1H988.4V771.4H986.7ZM989.5 757.5H991.2V782.3H989.5ZM996.5 753.5H998.1V788.8H996.5ZM999.8 747.7H1001.5V787.0H999.8ZM1003.2 754.7H1005.0V767.5H1003.2ZM1020.4 759.3H1022.5V768.0H1020.4ZM1024.5 754.3H1026.1V774.8H1024.5ZM1035.9 760.9H1037.8V767.5H1035.9ZM1038.6 760.0H1040.2V769.5H1038.6ZM1045.8 757.7H1047.7V767.3H1045.8ZM1072.0 747.1H1073.9V775.7H1072.0ZM1079.7 754.3H1081.1V770.3H1079.7ZM1090.0 750.6H1091.7V781.6H1090.0ZM1092.4 740.4H1093.8V770.8H1092.4ZM1098.7 747.2H1100.7V771.4H1098.7ZM1102.0 758.0H1103.5V770.0H1102.0ZM1106.1 758.2H1107.6V777.2H1106.1ZM1110.4 741.8H1111.8V769.6H1110.4ZM1114.2 750.1H1115.6V778.4H1114.2ZM1119.5 759.3H1121.2V784.8H1119.5ZM1124.0 749.9H1126.0V774.7H1124.0ZM1139.3 752.0H1141.2V781.0H1139.3ZM1144.6 754.7H1146.2V771.1H1144.6ZM1150.3 759.6H1152.1V773.6H1150.3ZM1153.7 757.7H1155.6V773.5H1153.7ZM1159.1 755.1H1160.6V774.7H1159.1ZM1180.5 745.7H1182.2V811.4H1180.5ZM1188.6 720.9H1190.5V777.2H1188.6ZM1195.6 733.1H1197.3V772.7H1195.6ZM1198.5 743.3H1199.8V792.2H1198.5ZM1202.3 750.7H1203.8V800.7H1202.3ZM1217.1 747.5H1218.7V792.5H1217.1ZM1220.6 751.8H1221.9V797.3H1220.6ZM1226.6 754.7H1228.7V795.1H1226.6ZM1236.3 753.5H1237.9V792.6H1236.3ZM1239.9 740.6H1241.6V773.9H1239.9ZM1243.3 754.2H1245.4V796.8H1243.3ZM1246.8 751.0H1248.8V783.2H1246.8ZM1251.6 755.2H1253.1V776.3H1251.6ZM1275.2 731.7H1276.7V785.7H1275.2ZM1283.6 711.0H1285.4V818.0H1283.6ZM1288.1 745.1H1289.5V808.0H1288.1ZM1290.4 731.5H1291.9V791.4H1290.4ZM1298.2 711.0H1299.6V778.6H1298.2ZM1309.7 712.0H1311.3V814.8H1309.7ZM1318.1 713.6H1319.5V803.3H1318.1ZM1324.4 735.0H1325.9V789.5H1324.4ZM1329.3 737.0H1330.9V789.8H1329.3ZM1336.4 735.9H1338.4V806.6H1336.4ZM1343.9 740.3H1345.8V808.9H1343.9ZM1354.4 712.2H1356.4V787.6H1354.4ZM1357.8 711.8H1359.5V779.5H1357.8ZM1363.5 701.0H1365.5V803.9H1363.5ZM1369.8 724.8H1371.9V794.9H1369.8ZM1380.5 745.2H1382.4V794.5H1380.5ZM1386.2 748.4H1388.0V790.3H1386.2ZM1409.5 748.0H1411.0V800.9H1409.5ZM1416.6 742.1H1418.4V790.8H1416.6ZM1423.4 691.5H1425.4V821.6H1423.4ZM1427.9 703.0H1429.2V793.6H1427.9ZM1452.2 718.4H1454.1V801.3H1452.2ZM1463.3 746.7H1464.6V786.2H1463.3ZM1466.1 731.3H1467.7V774.8H1466.1ZM1468.4 712.5H1470.2V789.7H1468.4ZM1486.8 742.8H1488.3V790.6H1486.8ZM1493.6 685.4H1495.2V821.1H1493.6ZM1505.8 735.4H1507.5V788.4H1505.8ZM1508.6 724.3H1510.2V784.1H1508.6ZM1518.9 739.0H1520.6V797.2H1518.9ZM1522.1 739.8H1524.1V782.1H1522.1ZM1532.4 744.1H1534.2V781.6H1532.4ZM1535.8 751.9H1537.7V782.1H1535.8ZM1554.2 684.6H1555.7V803.0H1554.2ZM1566.6 701.9H1568.2V814.7H1566.6ZM1568.9 695.0H1570.6V848.2H1568.9ZM1576.8 734.6H1578.7V796.2H1576.8ZM1583.7 755.5H1585.8V772.0H1583.7ZM1588.2 757.1H1589.8V772.0H1588.2ZM1622.7 757.8H1624.2V771.2H1622.7ZM1625.7 755.7H1627.6V770.7H1625.7ZM1634.2 759.6H1636.0V768.5H1634.2ZM971.7 821.4H973.2V837.8H971.7Z"/>
<path fill="#E06E78" d="M1116.2 141.1H1121.1V1093.2H1116.2Z"/>
<path fill="#F56F73" d="M850.2 141.1H855.2V1093.2H850.2ZM1084.9 141.1H1089.1V1093.2H1084.9ZM1137.3 141.1H1141.5V1093.2H1137.3ZM1158.1 141.1H1160.6V1093.2H1158.1ZM1199.9 141.1H1202.1V1093.2H1199.9ZM1227.2 141.1H1229.3V1093.2H1227.2ZM1241.2 141.1H1244.3V1093.2H1241.2ZM1256.4 141.1H1258.2V1093.2H1256.4ZM1565.9 141.1H1568.1V764.0H1565.9ZM1898.6 764.0H1902.8V1093.2H1898.6ZM943.1 759.4H945.3V772.0H943.1ZM947.8 759.6H951.3V769.1H947.8ZM964.3 725.6H966.8V791.3H964.3ZM967.6 736.7H970.8V793.2H967.6ZM973.7 727.7H976.1V791.0H973.7ZM976.9 727.0H980.0V797.6H976.9ZM982.2 745.1H985.0V781.0H982.2ZM986.4 755.5H989.7V783.5H986.4ZM989.6 751.2H992.3V783.6H989.6ZM992.3 751.6H994.8V773.7H992.3ZM995.7 746.1H999.0V773.0H995.7ZM1018.2 759.2H1021.0V771.0H1018.2ZM1023.7 760.8H1026.9V772.7H1023.7ZM1042.2 758.7H1044.6V768.9H1042.2ZM1047.3 761.7H1050.5V770.4H1047.3ZM1055.1 754.9H1057.9V770.1H1055.1ZM1084.2 743.3H1087.7V783.3H1084.2ZM1111.8 748.0H1114.1V771.5H1111.8ZM1114.5 754.2H1117.9V771.4H1114.5ZM1118.9 757.5H1121.8V777.1H1118.9ZM1131.0 755.6H1133.7V777.0H1131.0ZM1140.5 757.8H1142.8V774.4H1140.5ZM1145.4 756.2H1148.2V772.0H1145.4ZM1154.9 753.1H1157.5V787.9H1154.9ZM1158.7 738.0H1161.6V780.6H1158.7ZM1167.5 738.6H1169.7V779.2H1167.5ZM1169.9 727.0H1173.0V781.8H1169.9ZM1185.6 743.4H1189.0V805.3H1185.6ZM1192.8 732.2H1195.4V785.4H1192.8ZM1215.6 741.9H1218.8V781.1H1215.6ZM1219.6 745.7H1223.0V776.4H1219.6ZM1229.0 741.3H1231.7V793.4H1229.0ZM1240.7 735.8H1243.3V785.3H1240.7ZM1256.3 752.4H1258.8V792.3H1256.3ZM1265.7 734.8H1268.0V812.7H1265.7ZM1268.3 728.7H1270.5V783.1H1268.3ZM1272.6 738.5H1275.1V800.0H1272.6ZM1275.3 718.5H1278.0V829.7H1275.3ZM1284.5 699.9H1287.2V817.2H1284.5ZM1287.3 727.9H1290.2V826.0H1287.3ZM1291.2 707.9H1293.9V788.9H1291.2ZM1298.5 701.3H1301.0V782.5H1298.5ZM1310.5 692.7H1313.9V792.8H1310.5ZM1324.6 702.8H1327.3V800.2H1324.6ZM1343.1 713.2H1345.4V793.1H1343.1ZM1351.8 744.7H1355.0V786.1H1351.8ZM1356.1 720.6H1359.5V802.3H1356.1ZM1371.5 747.1H1374.1V820.1H1371.5ZM1376.9 732.9H1379.2V797.1H1376.9ZM1384.0 732.4H1386.5V786.8H1384.0ZM1403.3 719.3H1406.7V826.7H1403.3ZM1430.4 730.5H1433.8V782.2H1430.4ZM1439.8 727.0H1442.1V816.5H1439.8ZM1444.5 725.7H1447.8V795.9H1444.5ZM1453.3 720.3H1456.5V787.9H1453.3ZM1484.3 737.6H1487.6V807.9H1484.3ZM1495.7 732.6H1498.0V814.4H1495.7ZM1502.9 727.5H1505.8V787.0H1502.9ZM1514.1 728.4H1517.5V779.7H1514.1ZM1518.8 719.9H1521.3V791.9H1518.8ZM1522.3 754.2H1524.6V778.6H1522.3ZM1527.0 752.2H1529.6V770.8H1527.0ZM1534.1 744.6H1537.5V781.6H1534.1ZM1538.2 734.7H1540.5V777.8H1538.2ZM1546.5 713.8H1549.2V837.7H1546.5ZM1550.1 698.0H1553.0V838.3H1550.1ZM1560.0 736.0H1562.4V805.2H1560.0ZM1562.3 693.3H1565.5V814.3H1562.3ZM1572.3 722.9H1574.4V836.7H1572.3ZM1575.9 742.3H1579.3V793.2H1575.9ZM1581.6 753.4H1584.8V768.6H1581.6ZM1586.1 755.1H1588.4V770.5H1586.1ZM1588.8 757.6H1592.1V767.0H1588.8ZM1601.8 756.6H1604.4V768.9H1601.8ZM1610.4 755.0H1612.5V794.2H1610.4ZM1614.9 759.7H1617.7V787.3H1614.9ZM1626.1 753.8H1629.4V766.7H1626.1ZM1635.5 755.9H1638.4V768.1H1635.5ZM1639.9 760.0H1642.5V766.2H1639.9ZM978.0 717.9H981.1V768.4H978.0ZM995.6 723.6H1000.1V733.0H995.6ZM1063.8 733.0H1068.9V768.4H1063.8ZM1187.0 698.7H1191.2V764.0H1187.0ZM1310.9 640.0H1313.2V860.0H1310.9ZM1281.6 687.0H1284.8V842.0H1281.6ZM1550.2 668.0H1552.8V880.0H1550.2ZM1570.0 764.0H1575.5V866.0H1570.0ZM1441.0 764.0H1445.0V841.0H1441.0ZM1391.5 691.0H1400.0V764.0H1391.5Z"/>
<path fill="#F8608A" d="M1663.8 764.0H1668.0V1093.2H1663.8ZM1603.4 544.4H1608.0V764.0H1603.4Z"/>
<path fill="#F0905A" d="M967.0 141.1H969.2V1093.2H967.0ZM1068.6 141.1H1070.7V1093.2H1068.6ZM1095.5 141.1H1098.0V1093.2H1095.5ZM1219.7 141.1H1222.5V1093.2H1219.7ZM1247.6 141.1H1249.7V1093.2H1247.6ZM1289.1 141.1H1293.3V1093.2H1289.1ZM1563.9 912.0H1568.0V1093.2H1563.9ZM1663.6 141.1H1665.8V764.0H1663.6ZM1898.3 141.1H1901.0V764.0H1898.3ZM451.0 764.0H453.1V1093.2H451.0ZM940.0 758.5H942.8V771.4H940.0ZM958.4 732.3H961.0V781.8H958.4ZM964.8 752.0H968.0V787.5H964.8ZM974.7 725.1H977.6V791.8H974.7ZM978.7 755.9H981.9V782.5H978.7ZM984.3 750.3H987.2V784.0H984.3ZM988.2 743.9H990.4V780.5H988.2ZM997.2 746.7H999.7V771.2H997.2ZM1034.0 762.3H1037.4V771.3H1034.0ZM1041.1 762.7H1043.8V765.6H1041.1ZM1049.1 762.6H1052.1V769.1H1049.1ZM1053.6 761.3H1056.5V771.6H1053.6ZM1059.0 745.3H1061.6V784.6H1059.0ZM1077.4 750.5H1079.5V770.5H1077.4ZM1088.0 758.9H1091.0V771.0H1088.0ZM1096.6 750.8H1099.1V772.3H1096.6ZM1100.1 750.0H1103.5V774.3H1100.1ZM1107.0 749.3H1109.9V781.9H1107.0ZM1110.0 758.7H1113.0V768.0H1110.0ZM1120.0 754.0H1122.6V770.0H1120.0ZM1125.8 751.1H1128.8V783.5H1125.8ZM1137.9 757.2H1140.0V776.4H1137.9ZM1211.3 755.5H1214.5V791.1H1211.3ZM1221.0 735.0H1223.6V770.9H1221.0ZM1224.3 752.9H1226.7V775.6H1224.3ZM1232.8 747.1H1236.1V773.2H1232.8ZM1238.3 757.9H1240.9V778.6H1238.3ZM1248.4 757.5H1251.6V771.4H1248.4ZM1265.5 730.0H1268.6V798.3H1265.5ZM1287.9 749.7H1290.6V781.2H1287.9ZM1308.6 747.8H1311.1V783.4H1308.6ZM1330.2 735.1H1333.6V808.9H1330.2ZM1372.6 748.1H1375.2V793.0H1372.6ZM1400.5 724.7H1403.5V783.3H1400.5ZM1424.0 747.6H1426.8V828.9H1424.0ZM1430.2 706.7H1432.6V796.3H1430.2ZM1452.0 754.2H1455.3V790.3H1452.0ZM1457.3 752.4H1459.6V785.0H1457.3ZM1485.9 753.9H1489.1V792.0H1485.9ZM1514.7 751.1H1517.7V778.2H1514.7ZM1521.1 745.7H1523.8V784.8H1521.1ZM1539.7 739.3H1542.8V788.7H1539.7ZM1546.6 727.4H1550.1V785.9H1546.6ZM1573.8 742.9H1576.1V820.0H1573.8ZM1579.2 755.6H1582.2V770.6H1579.2ZM1586.2 759.3H1588.7V770.7H1586.2ZM1598.7 760.8H1601.0V769.7H1598.7ZM1611.8 756.4H1614.8V772.4H1611.8ZM1620.3 759.2H1623.6V775.0H1620.3ZM1635.2 755.6H1638.2V766.7H1635.2ZM1639.2 763.0H1641.7V766.5H1639.2ZM991.9 791.1H995.6V822.7H991.9Z"/>
<path fill="#8E8E3A" d="M956.8 141.1H958.7V1093.2H956.8Z"/>
<path fill="#EDB120" d="M954.1 141.1H956.9V1093.2H954.1ZM1070.6 141.1H1077.1V1093.2H1070.6ZM1082.9 141.1H1085.0V1093.2H1082.9ZM1099.9 141.1H1102.1V1093.2H1099.9ZM1108.1 141.1H1112.9V1093.2H1108.1ZM1155.7 141.1H1158.3V1093.2H1155.7ZM1195.2 141.1H1198.0V1093.2H1195.2ZM1205.8 141.1H1211.9V1093.2H1205.8ZM1214.2 141.1H1219.8V1093.2H1214.2ZM1222.4 141.1H1227.3V1093.2H1222.4ZM1229.2 141.1H1231.4V1093.2H1229.2ZM1251.7 141.1H1256.5V1093.2H1251.7ZM1293.2 141.1H1300.1V1093.2H1293.2ZM1494.9 141.1H1497.3V764.0H1494.9ZM1497.2 764.0H1499.4V1093.2H1497.2ZM1563.6 141.1H1566.0V764.0H1563.6ZM1563.9 764.0H1568.0V912.0H1563.9ZM305.3 764.0H307.9V1093.2H305.3ZM1605.2 764.0H1608.5V966.0H1605.2ZM256.6 762.8H2146.1V765.1H256.6ZM255.2 715.0H257.7V802.6H255.2ZM257.7 738.0H259.4V790.0H257.7ZM259.4 750.0H261.4V779.0H259.4ZM261.4 757.0H263.8V771.0H261.4ZM808.0 762.3H811.5V765.9H808.0ZM811.4 762.4H815.3V765.8H811.4ZM815.2 762.3H817.4V765.7H815.2ZM817.3 762.0H819.6V765.8H817.3ZM819.5 762.5H822.8V766.0H819.5ZM822.7 762.4H825.3V765.8H822.7ZM825.2 762.4H828.7V765.8H825.2ZM828.6 762.3H832.5V766.0H828.6ZM832.4 762.1H835.6V765.7H832.4ZM835.5 762.4H837.7V765.9H835.5ZM837.6 762.1H840.0V765.6H837.6ZM839.9 762.4H843.1V765.8H839.9ZM843.0 762.4H846.1V765.9H843.0ZM846.0 762.1H848.7V765.8H846.0ZM848.6 762.5H852.7V765.9H848.6ZM852.6 762.0H856.6V765.9H852.6ZM856.5 762.2H859.5V765.9H856.5ZM859.4 762.3H862.0V765.9H859.4ZM861.9 762.4H864.3V765.9H861.9ZM864.2 762.2H868.1V765.7H864.2ZM868.0 762.0H871.8V765.7H868.0ZM871.7 762.0H874.0V766.0H871.7ZM873.9 762.2H876.3V765.5H873.9ZM876.2 762.4H879.1V765.5H876.2ZM879.0 762.2H881.2V765.8H879.0ZM881.1 762.3H885.2V765.8H881.1ZM885.1 762.3H887.4V765.8H885.1ZM887.3 762.0H890.3V765.9H887.3ZM890.2 762.2H893.8V765.9H890.2ZM893.7 762.2H897.6V765.8H893.7ZM897.5 762.2H901.4V765.6H897.5ZM901.3 762.5H905.0V765.8H901.3ZM904.9 762.3H907.8V765.8H904.9ZM907.7 762.1H911.0V765.9H907.7ZM910.9 762.0H914.7V765.7H910.9ZM914.6 762.1H917.3V766.0H914.6ZM917.2 762.2H920.0V765.8H917.2ZM919.9 762.1H922.2V765.9H919.9ZM922.1 762.3H926.0V765.6H922.1ZM925.9 762.2H928.1V765.9H925.9ZM928.0 762.1H931.8V765.9H928.0ZM931.7 762.0H935.7V765.9H931.7ZM935.6 762.5H939.7V765.8H935.6ZM939.6 762.1H942.1V765.8H939.6ZM942.0 761.8H944.4V766.5H942.0ZM944.3 761.9H947.7V766.7H944.3ZM947.6 761.0H950.2V766.3H947.6ZM950.1 760.4H953.2V767.7H950.1ZM953.1 756.6H956.4V770.7H953.1ZM956.3 756.8H959.7V772.5H956.3ZM959.6 756.4H961.9V771.1H959.6ZM961.8 756.5H965.2V773.4H961.8ZM965.1 754.1H968.8V774.1H965.1ZM968.7 754.3H971.6V775.3H968.7ZM971.5 755.3H975.2V774.8H971.5ZM975.1 755.4H977.6V774.2H975.1ZM977.5 755.6H980.9V773.5H977.5ZM980.8 756.0H984.8V772.7H980.8ZM984.7 758.2H988.1V769.5H984.7ZM988.0 759.2H990.9V768.8H988.0ZM990.8 759.4H993.5V769.8H990.8ZM993.4 759.7H996.0V769.6H993.4ZM995.9 758.2H998.7V770.2H995.9ZM998.6 758.4H1002.4V770.7H998.6ZM1002.3 761.9H1005.1V766.3H1002.3ZM1005.0 762.0H1007.3V766.3H1005.0ZM1007.2 762.0H1010.6V766.3H1007.2ZM1010.5 762.3H1013.0V766.3H1010.5ZM1012.9 762.1H1016.5V766.3H1012.9ZM1016.4 761.8H1019.2V766.1H1016.4ZM1019.1 761.9H1023.1V765.8H1019.1ZM1023.0 762.1H1025.4V766.3H1023.0ZM1025.3 761.7H1028.5V766.1H1025.3ZM1028.4 761.9H1031.8V766.2H1028.4ZM1031.7 761.8H1035.2V766.2H1031.7ZM1035.1 762.3H1038.0V765.8H1035.1ZM1037.9 762.4H1041.6V765.6H1037.9ZM1041.5 762.1H1045.1V765.8H1041.5ZM1045.0 762.4H1048.8V765.9H1045.0ZM1048.7 762.4H1052.0V765.7H1048.7ZM1051.9 762.3H1055.2V765.5H1051.9ZM1055.1 759.5H1058.1V766.9H1055.1ZM1058.0 759.0H1060.7V768.2H1058.0ZM1060.6 758.8H1062.8V769.8H1060.6ZM1062.7 757.3H1066.3V769.9H1062.7ZM1066.2 758.3H1068.6V770.7H1066.2ZM1068.5 757.7H1071.3V770.3H1068.5ZM1071.2 758.1H1073.3V769.7H1071.2ZM1073.2 758.5H1076.3V769.7H1073.2ZM1076.2 759.3H1079.3V768.6H1076.2ZM1079.2 759.6H1082.2V769.2H1079.2ZM1082.1 759.1H1085.2V768.6H1082.1ZM1085.1 759.0H1087.6V768.2H1085.1ZM1087.5 758.5H1090.2V768.4H1087.5ZM1090.1 758.3H1092.9V769.1H1090.1ZM1092.8 758.9H1096.8V768.2H1092.8ZM1096.7 759.7H1098.8V769.0H1096.7ZM1098.7 759.0H1101.2V769.1H1098.7ZM1101.1 759.4H1104.3V769.0H1101.1ZM1104.2 759.2H1108.0V768.2H1104.2ZM1107.9 759.8H1111.6V768.0H1107.9ZM1111.5 759.5H1115.3V767.9H1111.5ZM1115.2 759.5H1118.5V768.1H1115.2ZM1118.4 760.4H1121.4V768.0H1118.4ZM1121.3 760.4H1124.0V767.9H1121.3ZM1123.9 759.8H1127.4V768.5H1123.9ZM1127.3 758.7H1129.6V768.4H1127.3ZM1129.5 758.5H1132.2V768.8H1129.5ZM1132.1 758.2H1135.2V768.8H1132.1ZM1135.1 758.7H1137.4V768.1H1135.1ZM1137.3 761.5H1140.9V767.1H1137.3ZM1140.8 760.9H1143.3V767.6H1140.8ZM1143.2 761.8H1145.9V767.5H1143.2ZM1145.8 761.8H1149.2V767.7H1145.8ZM1149.1 761.9H1151.9V767.7H1149.1ZM1151.8 761.1H1155.7V768.9H1151.8ZM1155.6 759.3H1158.3V769.9H1155.6ZM1158.2 758.0H1161.9V772.5H1158.2ZM1161.8 756.2H1164.5V771.3H1161.8ZM1164.4 756.4H1167.5V772.4H1164.4ZM1167.4 754.9H1170.5V771.0H1167.4ZM1170.4 755.9H1173.7V770.8H1170.4ZM1173.6 757.9H1175.8V770.8H1173.6ZM1175.7 756.0H1179.7V772.4H1175.7ZM1179.6 753.2H1183.7V774.8H1179.6ZM1183.6 751.5H1186.1V775.3H1183.6ZM1186.0 750.8H1189.7V772.5H1186.0ZM1189.6 750.3H1192.6V772.1H1189.6ZM1192.5 754.5H1194.7V772.7H1192.5ZM1194.6 756.2H1198.1V772.0H1194.6ZM1198.0 755.7H1201.0V771.1H1198.0ZM1200.9 756.1H1203.6V771.8H1200.9ZM1203.5 755.2H1205.7V772.0H1203.5ZM1205.6 755.8H1208.1V771.2H1205.6ZM1208.0 757.2H1211.9V771.7H1208.0ZM1211.8 755.9H1214.2V771.2H1211.8ZM1214.1 756.7H1217.2V771.2H1214.1ZM1217.1 757.4H1219.7V772.1H1217.1ZM1219.6 757.1H1221.9V770.9H1219.6ZM1221.8 756.7H1224.8V771.6H1221.8ZM1224.7 757.1H1228.7V772.4H1224.7ZM1228.6 757.8H1231.8V771.2H1228.6ZM1231.7 758.9H1235.8V772.0H1231.7ZM1235.7 757.8H1238.1V771.5H1235.7ZM1238.0 758.0H1240.4V773.1H1238.0ZM1240.3 757.4H1243.6V773.0H1240.3ZM1243.5 756.7H1246.7V771.7H1243.5ZM1246.6 757.4H1250.5V772.8H1246.6ZM1250.4 756.9H1253.7V772.2H1250.4ZM1253.6 755.6H1256.5V771.3H1253.6ZM1256.4 757.2H1260.0V772.5H1256.4ZM1259.9 755.8H1263.2V772.2H1259.9ZM1263.1 756.2H1267.0V775.4H1263.1ZM1266.9 753.6H1269.4V775.2H1266.9ZM1269.3 751.1H1272.9V776.3H1269.3ZM1272.8 751.4H1275.4V776.6H1272.8ZM1275.3 747.9H1277.7V777.1H1275.3ZM1277.6 749.0H1279.8V780.6H1277.6ZM1279.7 749.8H1282.3V781.1H1279.7ZM1282.2 748.2H1286.2V781.5H1282.2ZM1286.1 750.0H1289.8V777.1H1286.1ZM1289.7 747.4H1293.4V777.7H1289.7ZM1293.3 750.0H1296.2V777.3H1293.3ZM1296.1 749.4H1299.2V774.4H1296.1ZM1299.1 748.8H1302.6V773.5H1299.1ZM1302.5 748.0H1306.3V775.1H1302.5ZM1306.2 749.8H1310.2V774.3H1306.2ZM1310.1 747.2H1313.6V777.8H1310.1ZM1313.5 747.2H1316.1V778.0H1313.5ZM1316.0 749.5H1319.6V779.2H1316.0ZM1319.5 750.2H1323.2V777.8H1319.5ZM1323.1 750.6H1326.9V776.8H1323.1ZM1326.8 751.4H1329.6V775.5H1326.8ZM1329.5 749.3H1333.2V775.3H1329.5ZM1333.1 751.2H1336.6V776.6H1333.1ZM1336.5 750.2H1339.2V776.9H1336.5ZM1339.1 750.5H1341.9V776.7H1339.1ZM1341.8 751.3H1345.0V774.9H1341.8ZM1344.9 750.5H1347.3V773.9H1344.9ZM1347.2 750.3H1351.2V773.6H1347.2ZM1351.1 750.6H1354.4V774.6H1351.1ZM1354.3 753.5H1356.8V774.3H1354.3ZM1356.7 750.3H1360.7V775.0H1356.7ZM1360.6 749.5H1362.9V775.1H1360.6ZM1362.8 748.7H1365.1V774.4H1362.8ZM1365.0 751.0H1368.5V776.2H1365.0ZM1368.4 750.2H1372.5V779.6H1368.4ZM1372.4 753.6H1375.6V774.9H1372.4ZM1375.5 756.1H1379.1V772.4H1375.5ZM1379.0 756.8H1381.9V773.1H1379.0ZM1381.8 757.0H1385.8V773.3H1381.8ZM1385.7 754.8H1388.1V773.4H1385.7ZM1388.0 750.1H1391.5V776.8H1388.0ZM1391.4 747.9H1395.1V778.2H1391.4ZM1395.0 749.7H1397.8V777.0H1395.0ZM1397.7 747.6H1400.9V774.9H1397.7ZM1400.8 748.6H1403.7V778.7H1400.8ZM1403.6 749.2H1406.6V781.6H1403.6ZM1406.5 750.1H1410.0V779.1H1406.5ZM1409.9 750.1H1412.7V776.6H1409.9ZM1412.6 750.0H1416.5V776.4H1412.6ZM1416.4 748.0H1420.5V775.5H1416.4ZM1420.4 746.0H1424.5V780.5H1420.4ZM1424.4 746.7H1428.2V778.1H1424.4ZM1428.1 748.1H1432.0V774.5H1428.1ZM1431.9 750.2H1434.6V773.3H1431.9ZM1434.5 753.6H1437.7V773.0H1434.5ZM1437.6 754.9H1441.5V777.9H1437.6ZM1441.4 753.8H1445.3V778.8H1441.4ZM1445.2 754.0H1448.7V773.4H1445.2ZM1448.6 754.6H1452.6V773.6H1448.6ZM1452.5 753.1H1454.9V772.2H1452.5ZM1454.8 752.5H1457.7V773.3H1454.8ZM1457.6 752.1H1460.4V773.7H1457.6ZM1460.3 752.5H1463.8V773.1H1460.3ZM1463.7 752.3H1467.7V773.5H1463.7ZM1467.6 752.1H1471.6V772.8H1467.6ZM1471.5 753.7H1473.7V774.5H1471.5ZM1473.6 754.5H1476.0V774.5H1473.6ZM1475.9 757.7H1479.5V773.9H1475.9ZM1479.4 758.9H1482.9V776.1H1479.4ZM1482.8 758.3H1485.5V774.3H1482.8ZM1485.4 758.2H1488.9V776.6H1485.4ZM1488.8 750.2H1492.8V776.7H1488.8ZM1492.7 746.7H1496.6V775.7H1492.7ZM1496.5 744.9H1500.0V776.8H1496.5ZM1499.9 754.8H1503.3V771.6H1499.9ZM1503.2 756.1H1505.6V771.4H1503.2ZM1505.5 754.9H1509.3V771.7H1505.5ZM1509.2 754.5H1513.0V771.7H1509.2ZM1512.9 753.9H1515.5V772.4H1512.9ZM1515.4 753.4H1517.8V772.1H1515.4ZM1517.7 753.8H1520.2V772.1H1517.7ZM1520.1 755.0H1522.6V770.9H1520.1ZM1522.5 759.7H1525.4V768.5H1522.5ZM1525.3 759.5H1528.2V768.6H1525.3ZM1528.1 759.5H1531.6V767.8H1528.1ZM1531.5 759.2H1535.2V768.7H1531.5ZM1535.1 759.8H1537.2V768.7H1535.1ZM1537.1 758.5H1540.5V768.9H1537.1ZM1540.4 753.5H1543.5V770.0H1540.4ZM1543.4 749.5H1547.4V776.3H1543.4ZM1547.3 749.9H1549.9V781.9H1547.3ZM1549.8 744.5H1552.0V785.2H1549.8ZM1551.9 743.4H1555.7V779.7H1551.9ZM1555.6 745.1H1559.6V774.2H1555.6ZM1559.5 746.5H1561.8V773.2H1559.5ZM1561.7 747.9H1565.6V776.4H1561.7ZM1565.5 747.8H1568.9V781.5H1565.5ZM1568.8 748.1H1571.7V787.5H1568.8ZM1571.6 750.3H1573.7V781.6H1571.6ZM1573.6 754.7H1577.6V778.1H1573.6ZM1577.5 758.1H1580.3V769.6H1577.5ZM1580.2 759.1H1582.4V767.5H1580.2ZM1582.3 760.0H1585.5V766.4H1582.3ZM1585.4 761.1H1588.0V765.8H1585.4ZM1587.9 760.8H1590.4V765.9H1587.9ZM1590.3 761.4H1594.0V765.9H1590.3ZM1593.9 761.3H1596.5V765.9H1593.9ZM1596.4 761.0H1599.7V765.9H1596.4ZM1599.6 761.4H1603.6V765.7H1599.6ZM1603.5 760.7H1606.1V766.0H1603.5ZM1606.0 760.7H1608.8V767.2H1606.0ZM1608.7 760.9H1611.0V773.2H1608.7ZM1610.9 761.1H1613.8V774.6H1610.9ZM1613.7 761.0H1616.4V772.2H1613.7ZM1616.3 761.2H1619.0V769.9H1616.3ZM1618.9 761.5H1621.5V769.7H1618.9ZM1621.4 761.8H1623.8V767.9H1621.4ZM1623.7 762.2H1627.7V766.2H1623.7ZM1627.6 761.3H1630.7V765.6H1627.6ZM1630.6 760.1H1634.0V765.9H1630.6ZM1633.9 760.6H1637.5V766.0H1633.9ZM1637.4 761.8H1640.2V765.9H1637.4ZM1640.1 762.1H1642.3V766.0H1640.1ZM1642.2 762.3H1645.8V765.9H1642.2ZM1645.7 762.1H1649.1V765.9H1645.7ZM1649.0 762.1H1651.8V765.9H1649.0ZM1651.7 762.4H1655.0V765.8H1651.7ZM1654.9 762.0H1658.1V765.7H1654.9ZM1658.0 762.1H1661.2V765.7H1658.0ZM1661.1 762.3H1665.2V765.7H1661.1ZM1665.1 762.4H1667.8V765.8H1665.1ZM1667.7 762.1H1670.1V765.9H1667.7ZM1670.0 762.4H1674.0V765.6H1670.0ZM1673.9 762.4H1677.0V765.7H1673.9ZM1676.9 762.2H1680.8V765.6H1676.9ZM1680.7 762.3H1684.4V765.7H1680.7ZM1684.3 762.2H1687.3V765.9H1684.3ZM1687.2 762.2H1689.7V765.9H1687.2ZM1689.6 762.3H1693.4V765.7H1689.6ZM1693.3 762.1H1697.3V766.0H1693.3ZM1697.2 762.5H1699.6V765.8H1697.2ZM1699.5 762.1H1702.5V765.8H1699.5ZM1702.4 762.3H1706.4V765.8H1702.4ZM1706.3 762.2H1710.0V765.7H1706.3ZM1709.9 762.4H1712.1V765.8H1709.9ZM1712.0 762.1H1714.4V765.8H1712.0ZM1714.3 762.3H1718.1V765.9H1714.3ZM1718.0 762.3H1720.1V765.7H1718.0ZM1720.0 762.4H1722.7V765.9H1720.0ZM1722.6 762.2H1724.7V765.5H1722.6ZM1724.6 762.2H1727.3V765.6H1724.6ZM1727.2 762.1H1731.1V765.7H1727.2ZM1731.0 762.3H1733.6V765.8H1731.0ZM1733.5 762.4H1736.1V765.8H1733.5ZM1736.0 762.1H1739.0V765.7H1736.0ZM1738.9 762.0H1741.4V766.0H1738.9ZM1741.3 762.3H1745.4V765.8H1741.3ZM1745.3 762.4H1748.2V766.0H1745.3ZM1748.1 762.1H1752.1V765.7H1748.1ZM1752.0 762.3H1755.3V765.8H1752.0ZM1755.2 762.4H1758.0V765.7H1755.2ZM1757.9 762.2H1761.9V765.7H1757.9ZM1761.8 762.5H1765.3V765.8H1761.8ZM1765.2 762.3H1768.3V765.8H1765.2ZM1768.2 762.4H1771.6V766.0H1768.2ZM1771.5 762.0H1775.2V765.5H1771.5ZM808.0 761.6H811.1V765.1H808.0ZM812.0 762.7H814.2V765.0H812.0ZM814.4 761.3H817.1V765.6H814.4ZM821.7 762.9H824.7V765.4H821.7ZM830.4 762.6H833.0V765.2H830.4ZM839.3 761.6H841.5V764.8H839.3ZM842.5 763.2H845.2V765.8H842.5ZM846.4 762.0H848.5V765.7H846.4ZM848.6 763.0H851.6V765.4H848.6ZM852.4 763.2H855.4V765.4H852.4ZM859.4 763.2H862.6V765.0H859.4ZM863.5 761.4H865.7V766.8H863.5ZM866.5 762.8H868.7V765.5H866.5ZM869.4 762.1H871.4V765.9H869.4ZM875.0 763.1H877.7V765.0H875.0ZM877.9 762.3H880.7V766.3H877.9ZM892.4 762.2H894.8V764.8H892.4ZM895.6 761.1H898.7V765.6H895.6ZM899.0 761.9H901.4V766.5H899.0ZM904.4 763.1H906.7V766.2H904.4ZM906.8 761.8H909.2V766.0H906.8ZM909.1 761.2H911.1V764.8H909.1ZM921.4 761.5H924.7V766.3H921.4ZM929.9 762.2H932.6V765.1H929.9ZM933.3 762.9H936.1V766.0H933.3ZM940.0 759.4H942.8V767.4H940.0ZM943.1 755.5H946.4V771.5H943.1ZM954.0 751.8H956.4V782.2H954.0ZM957.0 742.0H959.2V775.6H957.0ZM960.0 752.3H962.3V785.1H960.0ZM965.0 739.9H967.0V798.2H965.0ZM968.4 747.5H971.3V802.9H968.4ZM983.0 745.9H984.9V775.1H983.0ZM986.0 753.2H989.2V777.2H986.0ZM995.1 756.4H997.5V771.2H995.1ZM998.5 744.3H1000.7V776.7H998.5ZM1000.8 757.5H1003.9V772.0H1000.8ZM1004.6 761.3H1007.2V772.4H1004.6ZM1010.7 756.5H1012.8V767.3H1010.7ZM1013.9 756.8H1016.3V766.7H1013.9ZM1016.9 760.5H1019.5V770.5H1016.9ZM1022.9 757.5H1025.9V771.1H1022.9ZM1033.8 761.5H1037.0V772.4H1033.8ZM1037.3 761.5H1039.4V768.5H1037.3ZM1039.6 758.9H1041.7V770.0H1039.6ZM1041.6 762.4H1044.2V767.6H1041.6ZM1044.5 760.3H1046.8V770.3H1044.5ZM1047.8 761.1H1050.5V767.9H1047.8ZM1050.8 758.3H1053.2V770.4H1050.8ZM1053.6 755.9H1056.9V770.6H1053.6ZM1061.3 748.3H1064.5V784.6H1061.3ZM1064.4 749.6H1066.7V781.0H1064.4ZM1067.7 738.7H1069.8V774.5H1067.7ZM1072.9 753.0H1075.2V783.9H1072.9ZM1079.8 757.6H1081.7V783.0H1079.8ZM1081.9 751.6H1084.3V771.4H1081.9ZM1084.5 748.5H1087.7V775.3H1084.5ZM1087.8 747.9H1090.6V782.1H1087.8ZM1093.6 742.2H1096.4V775.6H1093.6ZM1097.4 757.9H1100.6V781.5H1097.4ZM1101.6 751.2H1104.2V782.1H1101.6ZM1104.4 754.9H1106.7V782.1H1104.4ZM1108.1 748.9H1110.6V773.9H1108.1ZM1111.5 752.7H1114.7V780.1H1111.5ZM1116.0 747.9H1119.0V772.9H1116.0ZM1121.6 755.2H1123.6V770.4H1121.6ZM1124.3 744.4H1126.4V774.0H1124.3ZM1127.0 754.4H1129.0V779.6H1127.0ZM1130.0 751.8H1132.6V787.7H1130.0ZM1134.0 756.8H1136.2V770.0H1134.0ZM1140.3 759.5H1142.4V774.6H1140.3ZM1150.1 760.4H1153.1V771.8H1150.1ZM1160.4 756.0H1163.4V775.7H1160.4ZM1166.4 728.5H1169.5V783.6H1166.4ZM1173.9 751.8H1175.9V773.6H1173.9ZM1179.1 750.2H1181.3V797.5H1179.1ZM1181.6 749.4H1184.8V777.0H1181.6ZM1187.8 733.4H1190.0V774.1H1187.8ZM1191.1 746.8H1193.4V797.6H1191.1ZM1194.6 753.8H1197.3V786.9H1194.6ZM1197.3 749.5H1200.0V780.1H1197.3ZM1200.5 730.3H1202.8V776.7H1200.5ZM1204.2 751.4H1207.2V779.1H1204.2ZM1214.6 752.7H1217.2V779.3H1214.6ZM1217.3 743.9H1219.6V781.0H1217.3ZM1219.7 735.8H1222.3V796.1H1219.7ZM1223.4 747.8H1226.6V773.5H1223.4ZM1227.4 737.2H1229.5V778.5H1227.4ZM1234.1 748.0H1237.1V795.0H1234.1ZM1242.3 750.2H1245.1V783.2H1242.3ZM1251.6 747.3H1253.8V801.1H1251.6ZM1264.1 750.9H1267.0V789.9H1264.1ZM1267.3 749.4H1270.1V816.9H1267.3ZM1271.1 721.3H1273.4V794.4H1271.1ZM1274.7 713.1H1276.8V826.1H1274.7ZM1279.7 692.8H1283.0V815.9H1279.7ZM1283.2 696.1H1286.5V803.4H1283.2ZM1287.5 693.3H1290.2V808.3H1287.5ZM1300.0 718.8H1303.0V808.7H1300.0ZM1303.2 703.1H1305.8V779.1H1303.2ZM1306.1 724.9H1308.0V788.8H1306.1ZM1311.5 729.5H1313.9V797.9H1311.5ZM1315.3 700.3H1317.4V784.1H1315.3ZM1321.5 727.1H1324.3V807.8H1321.5ZM1324.8 725.3H1327.5V815.9H1324.8ZM1327.9 729.6H1330.4V813.5H1327.9ZM1331.7 727.6H1333.9V794.7H1331.7ZM1337.6 729.5H1340.4V799.9H1337.6ZM1343.9 723.3H1347.1V794.6H1343.9ZM1347.1 734.8H1350.0V804.6H1347.1ZM1360.8 715.8H1363.0V799.0H1360.8ZM1364.1 713.5H1366.3V789.3H1364.1ZM1367.7 721.2H1369.7V805.3H1367.7ZM1369.6 714.2H1372.3V816.8H1369.6ZM1373.4 746.4H1376.6V798.8H1373.4ZM1377.8 748.3H1380.9V796.2H1377.8ZM1381.4 749.7H1384.5V778.1H1381.4ZM1385.6 724.5H1388.5V786.5H1385.6ZM1401.1 694.9H1403.9V791.7H1401.1ZM1405.1 737.7H1407.1V787.8H1405.1ZM1410.4 710.2H1413.7V799.4H1410.4ZM1414.8 719.4H1417.2V808.2H1414.8ZM1418.2 717.6H1421.2V799.9H1418.2ZM1422.1 729.6H1425.2V835.0H1422.1ZM1428.6 726.8H1431.6V777.0H1428.6ZM1431.9 735.2H1434.3V793.7H1431.9ZM1435.5 735.1H1438.6V808.6H1435.5ZM1445.0 739.4H1446.9V806.8H1445.0ZM1447.5 728.5H1450.1V782.9H1447.5ZM1451.0 749.2H1453.5V793.5H1451.0ZM1454.6 720.0H1457.6V787.9H1454.6ZM1457.8 732.5H1460.7V783.7H1457.8ZM1463.6 724.8H1466.9V793.4H1463.6ZM1467.2 749.3H1470.4V778.9H1467.2ZM1470.6 736.3H1473.5V803.7H1470.6ZM1473.8 735.3H1476.5V781.9H1473.8ZM1481.0 754.1H1483.1V782.2H1481.0ZM1486.1 741.5H1489.4V795.7H1486.1ZM1490.2 720.5H1492.5V814.9H1490.2ZM1493.6 687.1H1495.7V818.8H1493.6ZM1496.3 721.8H1499.6V786.9H1496.3ZM1503.0 752.4H1505.3V785.2H1503.0ZM1505.6 740.4H1508.0V792.6H1505.6ZM1508.8 724.6H1511.5V778.4H1508.8ZM1511.9 739.2H1515.1V784.3H1511.9ZM1515.4 724.4H1517.7V795.6H1515.4ZM1518.1 739.8H1521.0V795.6H1518.1ZM1522.3 753.2H1525.3V782.3H1522.3ZM1528.5 749.0H1530.6V777.9H1528.5ZM1530.5 750.0H1533.7V771.3H1530.5ZM1537.1 754.7H1540.3V779.2H1537.1ZM1541.1 727.9H1544.1V783.6H1541.1ZM1545.3 718.3H1548.3V819.3H1545.3ZM1549.6 694.7H1552.6V829.1H1549.6ZM1557.4 703.2H1560.1V777.8H1557.4ZM1561.4 701.5H1563.7V785.8H1561.4ZM1564.7 742.5H1567.9V790.7H1564.7ZM1571.9 738.0H1574.6V816.8H1571.9ZM1578.6 751.7H1580.8V776.3H1578.6ZM1582.1 748.2H1584.3V768.5H1582.1ZM1585.7 751.4H1588.1V769.3H1585.7ZM1588.7 755.0H1591.8V766.5H1588.7ZM1592.8 750.9H1595.5V771.3H1592.8ZM1598.3 755.1H1601.1V767.7H1598.3ZM1601.8 751.0H1604.3V767.3H1601.8ZM1605.7 755.9H1608.7V773.2H1605.7ZM1619.3 755.8H1622.0V783.5H1619.3ZM1632.2 758.9H1635.0V769.0H1632.2ZM1635.2 757.1H1637.6V768.8H1635.2ZM1648.7 762.5H1651.4V765.9H1648.7ZM1651.5 762.4H1654.2V765.5H1651.5ZM1657.8 761.8H1660.1V767.2H1657.8ZM1660.1 762.6H1663.2V766.0H1660.1ZM1663.2 760.0H1665.3V767.6H1663.2ZM1667.6 761.6H1669.8V767.1H1667.6ZM1670.8 762.0H1673.9V766.4H1670.8ZM1677.9 761.2H1681.0V766.4H1677.9ZM1682.3 761.1H1685.3V766.4H1682.3ZM1685.4 762.1H1688.0V766.9H1685.4ZM1687.9 761.2H1690.4V765.5H1687.9ZM1690.9 762.9H1694.0V766.2H1690.9ZM1694.2 762.3H1696.2V765.1H1694.2ZM1711.3 760.7H1713.6V766.1H1711.3ZM1714.9 762.2H1717.5V765.5H1714.9ZM1721.3 762.1H1724.6V766.6H1721.3ZM1725.0 761.9H1727.0V765.1H1725.0ZM1727.9 760.9H1730.6V765.1H1727.9ZM1731.1 761.5H1734.2V765.1H1731.1ZM1734.8 763.0H1736.9V765.8H1734.8ZM1740.4 762.9H1743.0V767.6H1740.4ZM1752.3 762.8H1755.0V766.0H1752.3ZM1755.0 761.0H1757.7V767.1H1755.0ZM1759.1 762.5H1761.1V765.4H1759.1ZM1768.9 761.2H1771.6V766.7H1768.9ZM943.7 757.2H945.6V774.5H943.7ZM954.7 735.6H957.8V787.0H954.7ZM964.0 730.8H967.0V792.7H964.0ZM973.8 731.0H976.8V807.6H973.8ZM979.2 739.3H981.4V807.7H979.2ZM998.6 738.4H1001.5V791.8H998.6ZM1005.3 758.9H1007.7V770.1H1005.3ZM1019.5 759.2H1022.0V768.9H1019.5ZM1024.5 754.4H1026.5V769.3H1024.5ZM1027.9 757.7H1030.4V773.0H1027.9ZM1031.3 758.8H1033.5V769.0H1031.3ZM1041.6 760.1H1043.9V768.5H1041.6ZM1056.6 739.5H1059.2V775.6H1056.6ZM1071.3 746.4H1073.3V780.6H1071.3ZM1078.7 748.0H1081.6V781.5H1078.7ZM1090.5 749.3H1093.3V783.9H1090.5ZM1124.3 747.1H1126.8V784.9H1124.3ZM1128.9 750.5H1131.9V784.3H1128.9ZM1134.0 735.9H1136.1V775.5H1134.0ZM1138.4 755.5H1140.5V777.6H1138.4ZM1169.7 730.5H1171.9V795.8H1169.7ZM1176.7 737.0H1179.0V789.5H1176.7ZM1189.1 716.7H1191.3V795.4H1189.1ZM1196.5 740.3H1198.7V783.0H1196.5ZM1205.5 730.3H1208.5V792.1H1205.5ZM1208.5 730.6H1211.5V790.8H1208.5ZM1215.9 747.5H1218.8V797.9H1215.9ZM1239.3 742.3H1241.3V789.3H1239.3ZM1244.9 734.6H1247.8V791.4H1244.9ZM1252.3 741.7H1254.3V783.1H1252.3ZM1255.6 728.6H1258.2V794.2H1255.6ZM1293.0 721.5H1295.8V807.7H1293.0ZM1302.0 718.0H1304.6V790.0H1302.0ZM1310.7 709.7H1313.4V814.5H1310.7ZM1315.8 696.0H1318.5V796.2H1315.8ZM1323.1 718.9H1326.2V791.9H1323.1ZM1327.7 709.2H1329.8V796.6H1327.7ZM1330.0 708.4H1332.8V801.6H1330.0ZM1334.8 718.8H1337.0V815.1H1334.8ZM1340.7 715.2H1343.1V810.7H1340.7ZM1344.5 713.9H1346.8V795.0H1344.5ZM1353.8 712.8H1356.4V818.9H1353.8ZM1362.2 714.8H1365.1V796.3H1362.2ZM1365.2 708.0H1367.4V810.3H1365.2ZM1371.7 739.2H1374.7V810.0H1371.7ZM1375.0 737.0H1377.7V802.1H1375.0ZM1378.0 741.7H1380.4V788.0H1378.0ZM1387.4 721.3H1389.5V798.9H1387.4ZM1396.5 713.0H1398.6V803.8H1396.5ZM1404.1 714.6H1406.5V836.1H1404.1ZM1420.3 725.3H1423.3V827.3H1420.3ZM1427.1 729.4H1429.6V807.2H1427.1ZM1445.2 725.2H1447.8V801.5H1445.2ZM1454.9 716.2H1457.8V793.0H1454.9ZM1459.5 715.3H1462.1V800.0H1459.5ZM1464.8 715.9H1467.3V789.1H1464.8ZM1490.3 690.4H1492.9V818.9H1490.3ZM1506.4 735.8H1508.4V793.9H1506.4ZM1509.0 724.9H1511.4V788.8H1509.0ZM1518.7 739.2H1520.9V796.0H1518.7ZM1537.0 743.5H1539.7V780.0H1537.0ZM1541.0 723.9H1543.8V781.3H1541.0ZM1548.8 706.1H1551.7V848.7H1548.8ZM1559.7 715.3H1562.8V797.8H1559.7ZM1586.6 753.2H1589.1V770.3H1586.6ZM1590.3 755.8H1592.3V768.2H1590.3ZM1610.9 755.8H1613.7V788.1H1610.9ZM1616.1 757.2H1618.0V792.7H1616.1ZM966.6 705.2H975.4V818.9H966.6ZM971.0 818.9H973.6V841.6H971.0ZM974.8 705.2H977.7V788.6H974.8ZM976.7 744.4H990.6V781.0H976.7ZM980.5 744.4H985.5V801.2H980.5ZM993.8 729.2H1000.1V822.7H993.8ZM1056.2 738.1H1060.0V791.1H1056.2ZM1060.0 750.7H1063.8V781.0H1060.0ZM1180.0 713.0H1184.2V764.0H1180.0Z"/>
</g>
<rect x="1689.5" y="51.1" width="422.3" height="244.7" fill="#FEFEFE" stroke="#262626" stroke-width="2.2"/>
<line x1="1724.7" y1="94.2" x2="1854.4" y2="94.2" stroke="#0072BD" stroke-width="3.9"/>
<line x1="1724.7" y1="173.1" x2="1854.4" y2="173.1" stroke="#FF00FF" stroke-width="5.7"/>
<line x1="1724.7" y1="252.1" x2="1854.4" y2="252.1" stroke="#EDB120" stroke-width="2.9"/>
<g fill="#000" font-family="'Liberation Sans','Arimo',Arial,Helvetica,sans-serif" font-weight="bold">
<text transform="translate(230.00,1117.90) scale(1,1.04)" font-size="69" text-anchor="end" >0</text>
<text transform="translate(230.00,928.75) scale(1,1.04)" font-size="69" text-anchor="end" >0.2</text>
<text transform="translate(230.00,739.70) scale(1,1.04)" font-size="69" text-anchor="end" >0.4</text>
<text transform="translate(230.00,548.60) scale(1,1.04)" font-size="69" text-anchor="end" >0.6</text>
<text transform="translate(230.00,358.85) scale(1,1.04)" font-size="69" text-anchor="end" >0.8</text>
<text transform="translate(232.80,167.70) scale(1,1.04)" font-size="69" text-anchor="end" >1</text>
<text transform="translate(255.60,1303.50) scale(1,1.04)" font-size="69" text-anchor="middle" >0</text>
<text transform="translate(650.00,1303.50) scale(1,1.04)" font-size="69" text-anchor="middle" >5</text>
<text transform="translate(1043.00,1303.50) scale(1,1.04)" font-size="69" text-anchor="middle" >10</text>
<text transform="translate(1438.20,1303.50) scale(1,1.04)" font-size="69" text-anchor="middle" >15</text>
<text transform="translate(1831.20,1303.50) scale(1,1.04)" font-size="69" text-anchor="middle" >20</text>
<text transform="translate(2145.30,1303.50) scale(1,1.04)" font-size="69" text-anchor="middle" >24</text>
<text transform="translate(1055.00,1388.70) scale(1,1.02)" font-size="69" text-anchor="start" >Time (s)</text>
<text transform="translate(85.00,1083.20) rotate(-90) scale(1,1.0)" font-size="69.23" text-anchor="start" >Fuel cell control signal (u<tspan font-size="55.2" dx="1.2" dy="33">2</tspan><tspan dy="-33" dx="1.6">)</tspan></text>
<rect x="197.97" y="159.93" width="12.56" height="8.52" fill="#FEFEFE"/>
<rect x="220.00" y="159.93" width="11.68" height="8.52" fill="#FEFEFE"/>
<rect x="1008.17" y="1295.73" width="12.56" height="8.52" fill="#FEFEFE"/>
<rect x="1030.20" y="1295.73" width="11.68" height="8.52" fill="#FEFEFE"/>
<rect x="1403.37" y="1295.73" width="12.56" height="8.52" fill="#FEFEFE"/>
<rect x="1425.40" y="1295.73" width="11.68" height="8.52" fill="#FEFEFE"/>
<text transform="translate(1863.50,120.10) scale(1,1.04)" font-size="60" text-anchor="start" >BSMC</text>
<text transform="translate(1863.50,197.60) scale(1,1.04)" font-size="60" text-anchor="start" >STSMC</text>
<text transform="translate(1863.50,275.80) scale(1,1.04)" font-size="60" text-anchor="start" >SMC</text>
</g>
</svg>
</body></html>
